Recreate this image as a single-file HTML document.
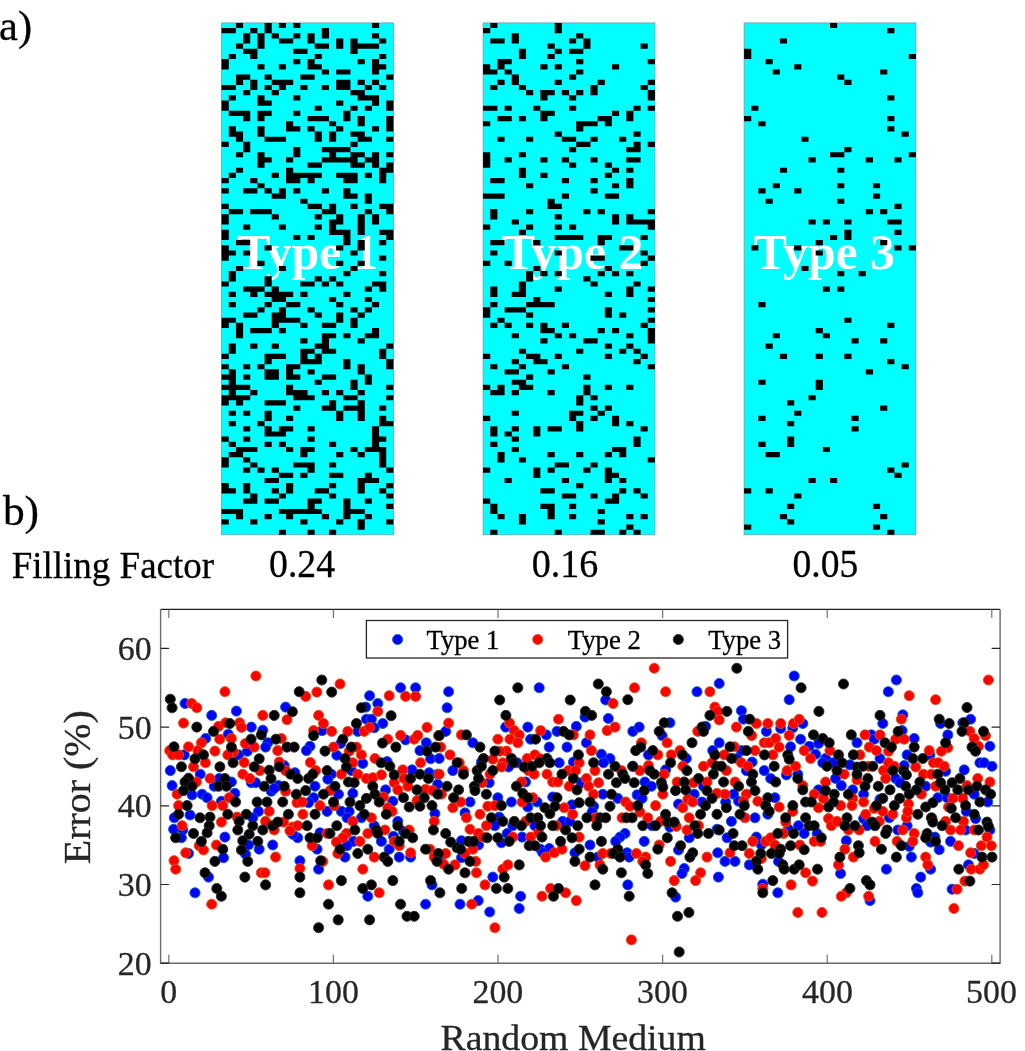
<!DOCTYPE html>
<html><head><meta charset="utf-8"><title>figure</title>
<style>html,body{margin:0;padding:0;background:#fff;width:1025px;height:1051px;overflow:hidden}svg{display:block;will-change:transform}</style>
</head><body>
<svg width="1025" height="1051" viewBox="0 0 1025 1051">
<rect x="221.6" y="22.9" width="171.8" height="511.9" fill="#00ffff" stroke="#7a9a9a" stroke-width="0.8"/>
<text x="237.04" y="269.20" font-family="Liberation Serif" font-weight="bold" font-size="51.01" textLength="141.47" lengthAdjust="spacingAndGlyphs" fill="#fff">Type 1</text>
<path d="M235.92 22.90h7.16v5.17h-7.16zM264.55 22.90h7.16v5.17h-7.16zM278.87 22.90h7.16v5.17h-7.16zM293.18 22.90h7.16v5.17h-7.16zM371.93 22.90h7.16v5.17h-7.16zM221.60 28.07h14.32v5.17h-14.32zM250.23 28.07h7.16v5.17h-7.16zM264.55 28.07h7.16v5.17h-7.16zM321.82 28.07h7.16v5.17h-7.16zM243.07 33.24h7.16v5.17h-7.16zM257.39 33.24h7.16v5.17h-7.16zM271.71 33.24h7.16v5.17h-7.16zM293.18 33.24h7.16v5.17h-7.16zM307.50 33.24h7.16v5.17h-7.16zM321.82 33.24h7.16v5.17h-7.16zM371.93 33.24h7.16v5.17h-7.16zM243.07 38.41h7.16v5.17h-7.16zM257.39 38.41h7.16v5.17h-7.16zM278.87 38.41h14.32v5.17h-14.32zM307.50 38.41h7.16v5.17h-7.16zM336.13 38.41h7.16v5.17h-7.16zM350.45 38.41h7.16v5.17h-7.16zM379.08 38.41h7.16v5.17h-7.16zM235.92 43.58h7.16v5.17h-7.16zM257.39 43.58h7.16v5.17h-7.16zM314.66 43.58h14.32v5.17h-14.32zM336.13 43.58h7.16v5.17h-7.16zM350.45 43.58h28.63v5.17h-28.63zM243.07 48.75h14.32v5.17h-14.32zM293.18 48.75h14.32v5.17h-14.32zM350.45 48.75h7.16v5.17h-7.16zM228.76 53.92h7.16v5.17h-7.16zM250.23 53.92h7.16v5.17h-7.16zM314.66 53.92h7.16v5.17h-7.16zM379.08 53.92h7.16v5.17h-7.16zM221.60 59.09h7.16v5.17h-7.16zM293.18 59.09h7.16v5.17h-7.16zM307.50 59.09h7.16v5.17h-7.16zM357.61 59.09h7.16v5.17h-7.16zM371.93 59.09h7.16v5.17h-7.16zM221.60 64.27h7.16v5.17h-7.16zM257.39 64.27h7.16v5.17h-7.16zM278.87 64.27h7.16v5.17h-7.16zM307.50 64.27h14.32v5.17h-14.32zM371.93 64.27h14.32v5.17h-14.32zM321.82 69.44h7.16v5.17h-7.16zM336.13 69.44h14.32v5.17h-14.32zM371.93 69.44h7.16v5.17h-7.16zM235.92 74.61h14.32v5.17h-14.32zM264.55 74.61h7.16v5.17h-7.16zM300.34 74.61h14.32v5.17h-14.32zM386.24 74.61h7.16v5.17h-7.16zM235.92 79.78h7.16v5.17h-7.16zM250.23 79.78h7.16v5.17h-7.16zM271.71 79.78h21.48v5.17h-21.48zM336.13 79.78h14.32v5.17h-14.32zM357.61 79.78h7.16v5.17h-7.16zM371.93 79.78h7.16v5.17h-7.16zM221.60 84.95h14.32v5.17h-14.32zM250.23 84.95h7.16v5.17h-7.16zM264.55 84.95h7.16v5.17h-7.16zM278.87 84.95h7.16v5.17h-7.16zM300.34 84.95h7.16v5.17h-7.16zM321.82 84.95h7.16v5.17h-7.16zM336.13 84.95h14.32v5.17h-14.32zM364.77 84.95h7.16v5.17h-7.16zM379.08 84.95h7.16v5.17h-7.16zM243.07 90.12h7.16v5.17h-7.16zM271.71 90.12h7.16v5.17h-7.16zM350.45 90.12h14.32v5.17h-14.32zM228.76 95.29h7.16v5.17h-7.16zM257.39 95.29h7.16v5.17h-7.16zM293.18 95.29h7.16v5.17h-7.16zM357.61 95.29h21.48v5.17h-21.48zM221.60 100.46h7.16v5.17h-7.16zM257.39 100.46h14.32v5.17h-14.32zM336.13 100.46h7.16v5.17h-7.16zM371.93 100.46h7.16v5.17h-7.16zM386.24 100.46h7.16v5.17h-7.16zM221.60 105.63h7.16v5.17h-7.16zM314.66 105.63h7.16v5.17h-7.16zM350.45 105.63h7.16v5.17h-7.16zM364.77 105.63h7.16v5.17h-7.16zM386.24 105.63h7.16v5.17h-7.16zM228.76 110.80h21.48v5.17h-21.48zM257.39 110.80h14.32v5.17h-14.32zM293.18 110.80h7.16v5.17h-7.16zM343.29 110.80h7.16v5.17h-7.16zM243.07 115.97h7.16v5.17h-7.16zM257.39 115.97h7.16v5.17h-7.16zM307.50 115.97h21.48v5.17h-21.48zM343.29 115.97h7.16v5.17h-7.16zM357.61 115.97h7.16v5.17h-7.16zM386.24 115.97h7.16v5.17h-7.16zM286.02 121.14h7.16v5.17h-7.16zM328.98 121.14h7.16v5.17h-7.16zM357.61 121.14h7.16v5.17h-7.16zM386.24 121.14h7.16v5.17h-7.16zM228.76 126.31h7.16v5.17h-7.16zM257.39 126.31h7.16v5.17h-7.16zM286.02 126.31h14.32v5.17h-14.32zM307.50 126.31h7.16v5.17h-7.16zM336.13 126.31h7.16v5.17h-7.16zM371.93 126.31h7.16v5.17h-7.16zM386.24 126.31h7.16v5.17h-7.16zM228.76 131.48h14.32v5.17h-14.32zM257.39 131.48h7.16v5.17h-7.16zM314.66 131.48h7.16v5.17h-7.16zM328.98 131.48h7.16v5.17h-7.16zM350.45 131.48h14.32v5.17h-14.32zM235.92 136.66h7.16v5.17h-7.16zM264.55 136.66h21.48v5.17h-21.48zM314.66 136.66h7.16v5.17h-7.16zM328.98 136.66h7.16v5.17h-7.16zM357.61 136.66h14.32v5.17h-14.32zM386.24 136.66h7.16v5.17h-7.16zM221.60 141.83h7.16v5.17h-7.16zM243.07 141.83h7.16v5.17h-7.16zM350.45 141.83h7.16v5.17h-7.16zM243.07 147.00h7.16v5.17h-7.16zM293.18 147.00h7.16v5.17h-7.16zM321.82 147.00h28.63v5.17h-28.63zM235.92 152.17h7.16v5.17h-7.16zM257.39 152.17h7.16v5.17h-7.16zM293.18 152.17h7.16v5.17h-7.16zM328.98 152.17h7.16v5.17h-7.16zM350.45 152.17h14.32v5.17h-14.32zM371.93 152.17h7.16v5.17h-7.16zM386.24 152.17h7.16v5.17h-7.16zM257.39 157.34h14.32v5.17h-14.32zM286.02 157.34h7.16v5.17h-7.16zM321.82 157.34h35.79v5.17h-35.79zM364.77 157.34h14.32v5.17h-14.32zM257.39 162.51h7.16v5.17h-7.16zM307.50 162.51h14.32v5.17h-14.32zM350.45 162.51h14.32v5.17h-14.32zM371.93 162.51h7.16v5.17h-7.16zM386.24 162.51h7.16v5.17h-7.16zM235.92 167.68h7.16v5.17h-7.16zM286.02 167.68h7.16v5.17h-7.16zM379.08 167.68h14.32v5.17h-14.32zM228.76 172.85h7.16v5.17h-7.16zM271.71 172.85h7.16v5.17h-7.16zM286.02 172.85h35.79v5.17h-35.79zM336.13 172.85h21.48v5.17h-21.48zM364.77 172.85h7.16v5.17h-7.16zM379.08 172.85h7.16v5.17h-7.16zM221.60 178.02h7.16v5.17h-7.16zM250.23 178.02h7.16v5.17h-7.16zM286.02 178.02h14.32v5.17h-14.32zM307.50 178.02h7.16v5.17h-7.16zM343.29 178.02h14.32v5.17h-14.32zM379.08 178.02h7.16v5.17h-7.16zM257.39 183.19h7.16v5.17h-7.16zM221.60 188.36h7.16v5.17h-7.16zM243.07 188.36h14.32v5.17h-14.32zM264.55 188.36h7.16v5.17h-7.16zM278.87 188.36h7.16v5.17h-7.16zM293.18 188.36h7.16v5.17h-7.16zM321.82 188.36h7.16v5.17h-7.16zM343.29 188.36h7.16v5.17h-7.16zM271.71 193.53h14.32v5.17h-14.32zM343.29 193.53h14.32v5.17h-14.32zM364.77 193.53h7.16v5.17h-7.16zM300.34 198.70h7.16v5.17h-7.16zM364.77 198.70h7.16v5.17h-7.16zM221.60 203.87h7.16v5.17h-7.16zM307.50 203.87h14.32v5.17h-14.32zM328.98 203.87h7.16v5.17h-7.16zM350.45 203.87h7.16v5.17h-7.16zM379.08 203.87h14.32v5.17h-14.32zM228.76 209.05h14.32v5.17h-14.32zM250.23 209.05h21.48v5.17h-21.48zM321.82 209.05h14.32v5.17h-14.32zM364.77 209.05h7.16v5.17h-7.16zM386.24 209.05h7.16v5.17h-7.16zM221.60 214.22h7.16v5.17h-7.16zM271.71 214.22h7.16v5.17h-7.16zM314.66 214.22h7.16v5.17h-7.16zM336.13 214.22h7.16v5.17h-7.16zM357.61 214.22h7.16v5.17h-7.16zM371.93 214.22h7.16v5.17h-7.16zM221.60 219.39h7.16v5.17h-7.16zM328.98 219.39h14.32v5.17h-14.32zM357.61 219.39h7.16v5.17h-7.16zM371.93 219.39h7.16v5.17h-7.16zM243.07 224.56h7.16v5.17h-7.16zM278.87 224.56h7.16v5.17h-7.16zM314.66 224.56h7.16v5.17h-7.16zM328.98 224.56h7.16v5.17h-7.16zM357.61 224.56h7.16v5.17h-7.16zM221.60 229.73h7.16v5.17h-7.16zM328.98 229.73h21.48v5.17h-21.48zM357.61 229.73h7.16v5.17h-7.16zM379.08 229.73h14.32v5.17h-14.32zM221.60 234.90h7.16v5.17h-7.16zM293.18 234.90h7.16v5.17h-7.16zM307.50 234.90h7.16v5.17h-7.16zM343.29 234.90h7.16v5.17h-7.16zM386.24 234.90h7.16v5.17h-7.16zM235.92 240.07h14.32v5.17h-14.32zM343.29 240.07h7.16v5.17h-7.16zM357.61 240.07h7.16v5.17h-7.16zM379.08 240.07h7.16v5.17h-7.16zM221.60 245.24h7.16v5.17h-7.16zM264.55 245.24h7.16v5.17h-7.16zM336.13 245.24h7.16v5.17h-7.16zM357.61 245.24h7.16v5.17h-7.16zM221.60 250.41h14.32v5.17h-14.32zM243.07 250.41h7.16v5.17h-7.16zM350.45 250.41h7.16v5.17h-7.16zM221.60 255.58h7.16v5.17h-7.16zM379.08 255.58h7.16v5.17h-7.16zM257.39 260.75h7.16v5.17h-7.16zM336.13 260.75h7.16v5.17h-7.16zM357.61 260.75h7.16v5.17h-7.16zM235.92 265.92h7.16v5.17h-7.16zM278.87 265.92h7.16v5.17h-7.16zM350.45 265.92h7.16v5.17h-7.16zM228.76 271.09h7.16v5.17h-7.16zM343.29 271.09h7.16v5.17h-7.16zM379.08 271.09h7.16v5.17h-7.16zM228.76 276.26h7.16v5.17h-7.16zM264.55 276.26h7.16v5.17h-7.16zM314.66 276.26h7.16v5.17h-7.16zM328.98 276.26h7.16v5.17h-7.16zM221.60 281.44h7.16v5.17h-7.16zM264.55 281.44h7.16v5.17h-7.16zM300.34 281.44h14.32v5.17h-14.32zM321.82 281.44h7.16v5.17h-7.16zM336.13 281.44h7.16v5.17h-7.16zM371.93 281.44h14.32v5.17h-14.32zM243.07 286.61h21.48v5.17h-21.48zM271.71 286.61h7.16v5.17h-7.16zM364.77 286.61h7.16v5.17h-7.16zM379.08 286.61h7.16v5.17h-7.16zM228.76 291.78h7.16v5.17h-7.16zM250.23 291.78h7.16v5.17h-7.16zM264.55 291.78h28.63v5.17h-28.63zM300.34 291.78h7.16v5.17h-7.16zM343.29 291.78h7.16v5.17h-7.16zM271.71 296.95h14.32v5.17h-14.32zM328.98 296.95h7.16v5.17h-7.16zM364.77 296.95h7.16v5.17h-7.16zM228.76 302.12h7.16v5.17h-7.16zM264.55 302.12h7.16v5.17h-7.16zM286.02 302.12h14.32v5.17h-14.32zM336.13 302.12h7.16v5.17h-7.16zM371.93 302.12h7.16v5.17h-7.16zM257.39 307.29h7.16v5.17h-7.16zM278.87 307.29h7.16v5.17h-7.16zM307.50 307.29h7.16v5.17h-7.16zM350.45 307.29h7.16v5.17h-7.16zM364.77 307.29h7.16v5.17h-7.16zM243.07 312.46h14.32v5.17h-14.32zM271.71 312.46h14.32v5.17h-14.32zM314.66 312.46h7.16v5.17h-7.16zM336.13 312.46h7.16v5.17h-7.16zM357.61 312.46h7.16v5.17h-7.16zM221.60 317.63h14.32v5.17h-14.32zM271.71 317.63h28.63v5.17h-28.63zM336.13 317.63h7.16v5.17h-7.16zM350.45 317.63h7.16v5.17h-7.16zM221.60 322.80h7.16v5.17h-7.16zM235.92 322.80h7.16v5.17h-7.16zM271.71 322.80h7.16v5.17h-7.16zM300.34 322.80h7.16v5.17h-7.16zM321.82 322.80h14.32v5.17h-14.32zM350.45 322.80h7.16v5.17h-7.16zM235.92 327.97h7.16v5.17h-7.16zM250.23 327.97h21.48v5.17h-21.48zM278.87 327.97h7.16v5.17h-7.16zM371.93 327.97h7.16v5.17h-7.16zM235.92 333.14h7.16v5.17h-7.16zM321.82 333.14h14.32v5.17h-14.32zM343.29 333.14h7.16v5.17h-7.16zM364.77 333.14h14.32v5.17h-14.32zM300.34 338.31h7.16v5.17h-7.16zM321.82 338.31h7.16v5.17h-7.16zM357.61 338.31h7.16v5.17h-7.16zM228.76 343.48h7.16v5.17h-7.16zM250.23 343.48h7.16v5.17h-7.16zM271.71 343.48h7.16v5.17h-7.16zM314.66 343.48h14.32v5.17h-14.32zM386.24 343.48h7.16v5.17h-7.16zM228.76 348.65h7.16v5.17h-7.16zM300.34 348.65h14.32v5.17h-14.32zM321.82 348.65h14.32v5.17h-14.32zM379.08 348.65h7.16v5.17h-7.16zM221.60 353.83h7.16v5.17h-7.16zM264.55 353.83h21.48v5.17h-21.48zM300.34 353.83h7.16v5.17h-7.16zM314.66 353.83h7.16v5.17h-7.16zM379.08 353.83h7.16v5.17h-7.16zM264.55 359.00h7.16v5.17h-7.16zM300.34 359.00h21.48v5.17h-21.48zM343.29 359.00h7.16v5.17h-7.16zM386.24 359.00h7.16v5.17h-7.16zM221.60 364.17h7.16v5.17h-7.16zM243.07 364.17h7.16v5.17h-7.16zM257.39 364.17h7.16v5.17h-7.16zM286.02 364.17h14.32v5.17h-14.32zM343.29 364.17h7.16v5.17h-7.16zM357.61 364.17h7.16v5.17h-7.16zM386.24 364.17h7.16v5.17h-7.16zM228.76 369.34h7.16v5.17h-7.16zM264.55 369.34h14.32v5.17h-14.32zM286.02 369.34h7.16v5.17h-7.16zM307.50 369.34h7.16v5.17h-7.16zM357.61 369.34h7.16v5.17h-7.16zM221.60 374.51h14.32v5.17h-14.32zM243.07 374.51h7.16v5.17h-7.16zM264.55 374.51h14.32v5.17h-14.32zM286.02 374.51h14.32v5.17h-14.32zM321.82 374.51h14.32v5.17h-14.32zM364.77 374.51h7.16v5.17h-7.16zM228.76 379.68h7.16v5.17h-7.16zM314.66 379.68h7.16v5.17h-7.16zM350.45 379.68h7.16v5.17h-7.16zM364.77 379.68h7.16v5.17h-7.16zM221.60 384.85h28.63v5.17h-28.63zM286.02 384.85h7.16v5.17h-7.16zM350.45 384.85h7.16v5.17h-7.16zM386.24 384.85h7.16v5.17h-7.16zM228.76 390.02h7.16v5.17h-7.16zM250.23 390.02h7.16v5.17h-7.16zM286.02 390.02h21.48v5.17h-21.48zM321.82 390.02h7.16v5.17h-7.16zM336.13 390.02h7.16v5.17h-7.16zM357.61 390.02h7.16v5.17h-7.16zM221.60 395.19h28.63v5.17h-28.63zM293.18 395.19h21.48v5.17h-21.48zM343.29 395.19h14.32v5.17h-14.32zM386.24 395.19h7.16v5.17h-7.16zM221.60 400.36h7.16v5.17h-7.16zM235.92 400.36h7.16v5.17h-7.16zM264.55 400.36h21.48v5.17h-21.48zM328.98 400.36h7.16v5.17h-7.16zM357.61 400.36h7.16v5.17h-7.16zM293.18 405.53h7.16v5.17h-7.16zM321.82 405.53h14.32v5.17h-14.32zM343.29 405.53h21.48v5.17h-21.48zM379.08 405.53h7.16v5.17h-7.16zM228.76 410.70h7.16v5.17h-7.16zM243.07 410.70h7.16v5.17h-7.16zM264.55 410.70h7.16v5.17h-7.16zM336.13 410.70h7.16v5.17h-7.16zM357.61 410.70h7.16v5.17h-7.16zM264.55 415.87h7.16v5.17h-7.16zM286.02 415.87h7.16v5.17h-7.16zM336.13 415.87h7.16v5.17h-7.16zM357.61 415.87h7.16v5.17h-7.16zM379.08 415.87h7.16v5.17h-7.16zM228.76 421.04h7.16v5.17h-7.16zM257.39 421.04h7.16v5.17h-7.16zM379.08 421.04h14.32v5.17h-14.32zM243.07 426.22h7.16v5.17h-7.16zM264.55 426.22h7.16v5.17h-7.16zM278.87 426.22h14.32v5.17h-14.32zM307.50 426.22h7.16v5.17h-7.16zM371.93 426.22h7.16v5.17h-7.16zM264.55 431.39h21.48v5.17h-21.48zM371.93 431.39h7.16v5.17h-7.16zM221.60 436.56h7.16v5.17h-7.16zM243.07 436.56h7.16v5.17h-7.16zM307.50 436.56h7.16v5.17h-7.16zM371.93 436.56h14.32v5.17h-14.32zM228.76 441.73h7.16v5.17h-7.16zM264.55 441.73h7.16v5.17h-7.16zM278.87 441.73h7.16v5.17h-7.16zM328.98 441.73h7.16v5.17h-7.16zM371.93 441.73h7.16v5.17h-7.16zM235.92 446.90h21.48v5.17h-21.48zM286.02 446.90h7.16v5.17h-7.16zM300.34 446.90h14.32v5.17h-14.32zM350.45 446.90h7.16v5.17h-7.16zM364.77 446.90h21.48v5.17h-21.48zM228.76 452.07h14.32v5.17h-14.32zM300.34 452.07h7.16v5.17h-7.16zM336.13 452.07h7.16v5.17h-7.16zM357.61 452.07h7.16v5.17h-7.16zM379.08 452.07h7.16v5.17h-7.16zM221.60 457.24h7.16v5.17h-7.16zM243.07 457.24h7.16v5.17h-7.16zM379.08 457.24h7.16v5.17h-7.16zM221.60 462.41h7.16v5.17h-7.16zM250.23 462.41h7.16v5.17h-7.16zM293.18 462.41h21.48v5.17h-21.48zM328.98 462.41h7.16v5.17h-7.16zM379.08 462.41h7.16v5.17h-7.16zM243.07 467.58h7.16v5.17h-7.16zM257.39 467.58h7.16v5.17h-7.16zM271.71 467.58h7.16v5.17h-7.16zM307.50 467.58h7.16v5.17h-7.16zM386.24 467.58h7.16v5.17h-7.16zM278.87 472.75h14.32v5.17h-14.32zM300.34 472.75h7.16v5.17h-7.16zM328.98 472.75h14.32v5.17h-14.32zM364.77 472.75h7.16v5.17h-7.16zM264.55 477.92h14.32v5.17h-14.32zM357.61 477.92h21.48v5.17h-21.48zM221.60 483.09h7.16v5.17h-7.16zM243.07 483.09h7.16v5.17h-7.16zM286.02 483.09h7.16v5.17h-7.16zM328.98 483.09h7.16v5.17h-7.16zM357.61 483.09h7.16v5.17h-7.16zM386.24 483.09h7.16v5.17h-7.16zM221.60 488.26h14.32v5.17h-14.32zM243.07 488.26h7.16v5.17h-7.16zM271.71 488.26h7.16v5.17h-7.16zM286.02 488.26h7.16v5.17h-7.16zM314.66 488.26h14.32v5.17h-14.32zM357.61 488.26h7.16v5.17h-7.16zM379.08 488.26h7.16v5.17h-7.16zM250.23 493.43h7.16v5.17h-7.16zM278.87 493.43h7.16v5.17h-7.16zM328.98 493.43h7.16v5.17h-7.16zM386.24 493.43h7.16v5.17h-7.16zM243.07 498.61h14.32v5.17h-14.32zM264.55 498.61h14.32v5.17h-14.32zM307.50 498.61h14.32v5.17h-14.32zM343.29 498.61h7.16v5.17h-7.16zM364.77 498.61h7.16v5.17h-7.16zM307.50 503.78h7.16v5.17h-7.16zM343.29 503.78h7.16v5.17h-7.16zM386.24 503.78h7.16v5.17h-7.16zM221.60 508.95h21.48v5.17h-21.48zM278.87 508.95h42.95v5.17h-42.95zM343.29 508.95h21.48v5.17h-21.48zM235.92 514.12h7.16v5.17h-7.16zM264.55 514.12h7.16v5.17h-7.16zM286.02 514.12h7.16v5.17h-7.16zM321.82 514.12h7.16v5.17h-7.16zM343.29 514.12h7.16v5.17h-7.16zM364.77 514.12h7.16v5.17h-7.16zM221.60 519.29h7.16v5.17h-7.16zM250.23 519.29h7.16v5.17h-7.16zM300.34 519.29h7.16v5.17h-7.16zM336.13 519.29h7.16v5.17h-7.16zM357.61 519.29h7.16v5.17h-7.16zM386.24 519.29h7.16v5.17h-7.16zM357.61 524.46h7.16v5.17h-7.16zM278.87 529.63h7.16v5.17h-7.16zM307.50 529.63h7.16v5.17h-7.16zM328.98 529.63h7.16v5.17h-7.16z" fill="#000"/>
<rect x="483.1" y="22.9" width="171.8" height="511.9" fill="#00ffff" stroke="#7a9a9a" stroke-width="0.8"/>
<text x="501.74" y="269.20" font-family="Liberation Serif" font-weight="bold" font-size="51.01" textLength="141.75" lengthAdjust="spacingAndGlyphs" fill="#fff">Type 2</text>
<path d="M490.26 22.90h7.16v5.17h-7.16zM554.68 22.90h7.16v5.17h-7.16zM483.10 28.07h7.16v5.17h-7.16zM554.68 28.07h7.16v5.17h-7.16zM511.73 33.24h7.16v5.17h-7.16zM576.16 33.24h7.16v5.17h-7.16zM490.26 38.41h14.32v5.17h-14.32zM511.73 38.41h7.16v5.17h-7.16zM569.00 38.41h7.16v5.17h-7.16zM583.32 38.41h7.16v5.17h-7.16zM547.53 43.58h7.16v5.17h-7.16zM583.32 43.58h7.16v5.17h-7.16zM640.58 43.58h7.16v5.17h-7.16zM518.89 48.75h7.16v5.17h-7.16zM554.68 48.75h7.16v5.17h-7.16zM569.00 48.75h14.32v5.17h-14.32zM518.89 53.92h7.16v5.17h-7.16zM547.53 53.92h7.16v5.17h-7.16zM497.42 59.09h14.32v5.17h-14.32zM576.16 59.09h7.16v5.17h-7.16zM647.74 59.09h7.16v5.17h-7.16zM483.10 64.27h7.16v5.17h-7.16zM497.42 64.27h7.16v5.17h-7.16zM540.37 64.27h7.16v5.17h-7.16zM554.68 64.27h7.16v5.17h-7.16zM611.95 64.27h7.16v5.17h-7.16zM483.10 69.44h14.32v5.17h-14.32zM504.58 69.44h7.16v5.17h-7.16zM576.16 69.44h7.16v5.17h-7.16zM511.73 74.61h7.16v5.17h-7.16zM569.00 74.61h7.16v5.17h-7.16zM497.42 79.78h7.16v5.17h-7.16zM511.73 79.78h7.16v5.17h-7.16zM554.68 79.78h7.16v5.17h-7.16zM597.63 79.78h7.16v5.17h-7.16zM647.74 79.78h7.16v5.17h-7.16zM490.26 84.95h7.16v5.17h-7.16zM518.89 84.95h7.16v5.17h-7.16zM590.48 84.95h7.16v5.17h-7.16zM640.58 84.95h7.16v5.17h-7.16zM526.05 90.12h7.16v5.17h-7.16zM540.37 90.12h14.32v5.17h-14.32zM561.84 90.12h7.16v5.17h-7.16zM576.16 90.12h7.16v5.17h-7.16zM590.48 90.12h7.16v5.17h-7.16zM647.74 90.12h7.16v5.17h-7.16zM540.37 95.29h7.16v5.17h-7.16zM569.00 95.29h7.16v5.17h-7.16zM647.74 95.29h7.16v5.17h-7.16zM483.10 105.63h14.32v5.17h-14.32zM504.58 105.63h7.16v5.17h-7.16zM533.21 105.63h7.16v5.17h-7.16zM569.00 105.63h7.16v5.17h-7.16zM633.43 105.63h7.16v5.17h-7.16zM647.74 105.63h7.16v5.17h-7.16zM540.37 110.80h14.32v5.17h-14.32zM611.95 110.80h7.16v5.17h-7.16zM626.27 110.80h7.16v5.17h-7.16zM497.42 115.97h14.32v5.17h-14.32zM518.89 115.97h7.16v5.17h-7.16zM540.37 115.97h7.16v5.17h-7.16zM597.63 115.97h14.32v5.17h-14.32zM626.27 115.97h7.16v5.17h-7.16zM483.10 121.14h7.16v5.17h-7.16zM576.16 121.14h21.48v5.17h-21.48zM604.79 121.14h7.16v5.17h-7.16zM576.16 126.31h7.16v5.17h-7.16zM554.68 131.48h7.16v5.17h-7.16zM633.43 131.48h7.16v5.17h-7.16zM497.42 136.66h7.16v5.17h-7.16zM526.05 136.66h7.16v5.17h-7.16zM561.84 136.66h14.32v5.17h-14.32zM590.48 136.66h7.16v5.17h-7.16zM619.11 136.66h7.16v5.17h-7.16zM576.16 141.83h14.32v5.17h-14.32zM633.43 141.83h7.16v5.17h-7.16zM647.74 141.83h7.16v5.17h-7.16zM569.00 147.00h7.16v5.17h-7.16zM626.27 147.00h14.32v5.17h-14.32zM483.10 152.17h7.16v5.17h-7.16zM518.89 152.17h7.16v5.17h-7.16zM483.10 157.34h7.16v5.17h-7.16zM504.58 157.34h7.16v5.17h-7.16zM540.37 157.34h7.16v5.17h-7.16zM561.84 157.34h7.16v5.17h-7.16zM590.48 157.34h7.16v5.17h-7.16zM626.27 157.34h14.32v5.17h-14.32zM483.10 162.51h7.16v5.17h-7.16zM569.00 162.51h7.16v5.17h-7.16zM604.79 162.51h7.16v5.17h-7.16zM518.89 167.68h7.16v5.17h-7.16zM611.95 167.68h7.16v5.17h-7.16zM626.27 167.68h7.16v5.17h-7.16zM518.89 172.85h7.16v5.17h-7.16zM540.37 172.85h7.16v5.17h-7.16zM604.79 172.85h7.16v5.17h-7.16zM490.26 178.02h14.32v5.17h-14.32zM561.84 178.02h7.16v5.17h-7.16zM590.48 178.02h7.16v5.17h-7.16zM626.27 178.02h7.16v5.17h-7.16zM526.05 183.19h7.16v5.17h-7.16zM611.95 183.19h7.16v5.17h-7.16zM626.27 183.19h7.16v5.17h-7.16zM590.48 188.36h7.16v5.17h-7.16zM483.10 193.53h21.48v5.17h-21.48zM561.84 193.53h7.16v5.17h-7.16zM604.79 193.53h14.32v5.17h-14.32zM547.53 198.70h7.16v5.17h-7.16zM547.53 203.87h14.32v5.17h-14.32zM490.26 209.05h7.16v5.17h-7.16zM526.05 209.05h7.16v5.17h-7.16zM583.32 209.05h7.16v5.17h-7.16zM597.63 209.05h7.16v5.17h-7.16zM647.74 209.05h7.16v5.17h-7.16zM490.26 214.22h7.16v5.17h-7.16zM554.68 214.22h7.16v5.17h-7.16zM611.95 214.22h7.16v5.17h-7.16zM626.27 214.22h7.16v5.17h-7.16zM511.73 219.39h7.16v5.17h-7.16zM611.95 219.39h7.16v5.17h-7.16zM626.27 219.39h28.63v5.17h-28.63zM483.10 224.56h7.16v5.17h-7.16zM526.05 224.56h7.16v5.17h-7.16zM554.68 224.56h7.16v5.17h-7.16zM569.00 224.56h7.16v5.17h-7.16zM647.74 224.56h7.16v5.17h-7.16zM518.89 229.73h7.16v5.17h-7.16zM554.68 234.90h28.63v5.17h-28.63zM597.63 234.90h14.32v5.17h-14.32zM640.58 234.90h7.16v5.17h-7.16zM490.26 240.07h14.32v5.17h-14.32zM533.21 240.07h7.16v5.17h-7.16zM597.63 240.07h7.16v5.17h-7.16zM619.11 245.24h14.32v5.17h-14.32zM490.26 250.41h7.16v5.17h-7.16zM554.68 250.41h7.16v5.17h-7.16zM640.58 250.41h7.16v5.17h-7.16zM590.48 255.58h14.32v5.17h-14.32zM647.74 255.58h7.16v5.17h-7.16zM483.10 260.75h7.16v5.17h-7.16zM504.58 260.75h7.16v5.17h-7.16zM640.58 260.75h7.16v5.17h-7.16zM533.21 265.92h7.16v5.17h-7.16zM604.79 265.92h7.16v5.17h-7.16zM526.05 271.09h7.16v5.17h-7.16zM540.37 271.09h7.16v5.17h-7.16zM554.68 271.09h7.16v5.17h-7.16zM597.63 271.09h7.16v5.17h-7.16zM611.95 271.09h7.16v5.17h-7.16zM626.27 271.09h7.16v5.17h-7.16zM526.05 276.26h7.16v5.17h-7.16zM583.32 276.26h7.16v5.17h-7.16zM518.89 281.44h7.16v5.17h-7.16zM590.48 281.44h7.16v5.17h-7.16zM633.43 281.44h7.16v5.17h-7.16zM490.26 286.61h7.16v5.17h-7.16zM518.89 286.61h7.16v5.17h-7.16zM554.68 286.61h7.16v5.17h-7.16zM626.27 286.61h7.16v5.17h-7.16zM647.74 286.61h7.16v5.17h-7.16zM490.26 291.78h7.16v5.17h-7.16zM511.73 291.78h14.32v5.17h-14.32zM604.79 291.78h7.16v5.17h-7.16zM626.27 291.78h7.16v5.17h-7.16zM533.21 296.95h7.16v5.17h-7.16zM647.74 296.95h7.16v5.17h-7.16zM490.26 302.12h7.16v5.17h-7.16zM526.05 302.12h28.63v5.17h-28.63zM483.10 307.29h7.16v5.17h-7.16zM504.58 307.29h21.48v5.17h-21.48zM604.79 307.29h7.16v5.17h-7.16zM647.74 307.29h7.16v5.17h-7.16zM483.10 312.46h7.16v5.17h-7.16zM526.05 312.46h7.16v5.17h-7.16zM604.79 312.46h7.16v5.17h-7.16zM619.11 312.46h7.16v5.17h-7.16zM497.42 317.63h7.16v5.17h-7.16zM647.74 317.63h7.16v5.17h-7.16zM490.26 322.80h7.16v5.17h-7.16zM504.58 322.80h7.16v5.17h-7.16zM526.05 322.80h7.16v5.17h-7.16zM540.37 322.80h7.16v5.17h-7.16zM561.84 322.80h7.16v5.17h-7.16zM640.58 322.80h7.16v5.17h-7.16zM540.37 327.97h14.32v5.17h-14.32zM597.63 327.97h7.16v5.17h-7.16zM611.95 327.97h7.16v5.17h-7.16zM647.74 327.97h7.16v5.17h-7.16zM511.73 333.14h7.16v5.17h-7.16zM554.68 333.14h7.16v5.17h-7.16zM569.00 333.14h7.16v5.17h-7.16zM626.27 333.14h7.16v5.17h-7.16zM647.74 333.14h7.16v5.17h-7.16zM540.37 338.31h7.16v5.17h-7.16zM583.32 338.31h14.32v5.17h-14.32zM647.74 338.31h7.16v5.17h-7.16zM604.79 343.48h7.16v5.17h-7.16zM626.27 343.48h7.16v5.17h-7.16zM518.89 348.65h7.16v5.17h-7.16zM576.16 348.65h7.16v5.17h-7.16zM619.11 348.65h7.16v5.17h-7.16zM633.43 348.65h7.16v5.17h-7.16zM483.10 353.83h7.16v5.17h-7.16zM526.05 353.83h14.32v5.17h-14.32zM554.68 353.83h7.16v5.17h-7.16zM604.79 353.83h7.16v5.17h-7.16zM640.58 353.83h7.16v5.17h-7.16zM511.73 359.00h7.16v5.17h-7.16zM533.21 359.00h14.32v5.17h-14.32zM633.43 359.00h7.16v5.17h-7.16zM490.26 364.17h7.16v5.17h-7.16zM518.89 364.17h7.16v5.17h-7.16zM561.84 364.17h7.16v5.17h-7.16zM647.74 364.17h7.16v5.17h-7.16zM504.58 369.34h14.32v5.17h-14.32zM547.53 369.34h7.16v5.17h-7.16zM526.05 374.51h7.16v5.17h-7.16zM583.32 374.51h7.16v5.17h-7.16zM511.73 379.68h14.32v5.17h-14.32zM483.10 384.85h7.16v5.17h-7.16zM497.42 384.85h7.16v5.17h-7.16zM518.89 384.85h14.32v5.17h-14.32zM583.32 384.85h7.16v5.17h-7.16zM604.79 384.85h7.16v5.17h-7.16zM626.27 384.85h7.16v5.17h-7.16zM490.26 390.02h14.32v5.17h-14.32zM511.73 390.02h7.16v5.17h-7.16zM547.53 390.02h7.16v5.17h-7.16zM583.32 390.02h7.16v5.17h-7.16zM576.16 395.19h7.16v5.17h-7.16zM590.48 395.19h7.16v5.17h-7.16zM576.16 400.36h7.16v5.17h-7.16zM590.48 405.53h7.16v5.17h-7.16zM604.79 405.53h7.16v5.17h-7.16zM511.73 410.70h7.16v5.17h-7.16zM569.00 410.70h14.32v5.17h-14.32zM597.63 410.70h7.16v5.17h-7.16zM483.10 415.87h7.16v5.17h-7.16zM569.00 415.87h7.16v5.17h-7.16zM590.48 415.87h7.16v5.17h-7.16zM611.95 415.87h7.16v5.17h-7.16zM576.16 421.04h7.16v5.17h-7.16zM611.95 421.04h7.16v5.17h-7.16zM626.27 421.04h7.16v5.17h-7.16zM490.26 426.22h7.16v5.17h-7.16zM511.73 426.22h7.16v5.17h-7.16zM533.21 426.22h7.16v5.17h-7.16zM547.53 426.22h14.32v5.17h-14.32zM576.16 426.22h7.16v5.17h-7.16zM640.58 426.22h7.16v5.17h-7.16zM490.26 431.39h7.16v5.17h-7.16zM504.58 431.39h7.16v5.17h-7.16zM533.21 431.39h7.16v5.17h-7.16zM511.73 436.56h7.16v5.17h-7.16zM633.43 436.56h7.16v5.17h-7.16zM490.26 441.73h7.16v5.17h-7.16zM633.43 441.73h7.16v5.17h-7.16zM511.73 446.90h7.16v5.17h-7.16zM611.95 446.90h14.32v5.17h-14.32zM497.42 452.07h7.16v5.17h-7.16zM547.53 452.07h7.16v5.17h-7.16zM576.16 452.07h7.16v5.17h-7.16zM604.79 452.07h7.16v5.17h-7.16zM619.11 452.07h7.16v5.17h-7.16zM497.42 457.24h7.16v5.17h-7.16zM518.89 457.24h7.16v5.17h-7.16zM647.74 457.24h7.16v5.17h-7.16zM554.68 462.41h14.32v5.17h-14.32zM590.48 462.41h7.16v5.17h-7.16zM483.10 467.58h7.16v5.17h-7.16zM533.21 467.58h7.16v5.17h-7.16zM547.53 467.58h7.16v5.17h-7.16zM583.32 467.58h7.16v5.17h-7.16zM604.79 467.58h7.16v5.17h-7.16zM533.21 472.75h7.16v5.17h-7.16zM604.79 472.75h14.32v5.17h-14.32zM504.58 477.92h7.16v5.17h-7.16zM561.84 477.92h7.16v5.17h-7.16zM604.79 477.92h7.16v5.17h-7.16zM619.11 477.92h7.16v5.17h-7.16zM576.16 483.09h7.16v5.17h-7.16zM540.37 488.26h14.32v5.17h-14.32zM619.11 488.26h7.16v5.17h-7.16zM633.43 488.26h7.16v5.17h-7.16zM561.84 493.43h14.32v5.17h-14.32zM590.48 493.43h7.16v5.17h-7.16zM611.95 493.43h7.16v5.17h-7.16zM640.58 493.43h7.16v5.17h-7.16zM483.10 498.61h7.16v5.17h-7.16zM604.79 498.61h14.32v5.17h-14.32zM490.26 503.78h7.16v5.17h-7.16zM540.37 503.78h14.32v5.17h-14.32zM569.00 503.78h7.16v5.17h-7.16zM490.26 508.95h7.16v5.17h-7.16zM547.53 508.95h7.16v5.17h-7.16zM597.63 508.95h7.16v5.17h-7.16zM497.42 514.12h7.16v5.17h-7.16zM518.89 514.12h7.16v5.17h-7.16zM547.53 514.12h7.16v5.17h-7.16zM569.00 514.12h7.16v5.17h-7.16zM626.27 514.12h7.16v5.17h-7.16zM640.58 514.12h7.16v5.17h-7.16zM518.89 519.29h7.16v5.17h-7.16zM597.63 519.29h7.16v5.17h-7.16zM626.27 524.46h7.16v5.17h-7.16zM490.26 529.63h7.16v5.17h-7.16zM554.68 529.63h7.16v5.17h-7.16zM590.48 529.63h14.32v5.17h-14.32zM619.11 529.63h7.16v5.17h-7.16zM633.43 529.63h7.16v5.17h-7.16z" fill="#000"/>
<rect x="744.1" y="22.9" width="171.8" height="511.9" fill="#00ffff" stroke="#7a9a9a" stroke-width="0.8"/>
<text x="753.64" y="269.20" font-family="Liberation Serif" font-weight="bold" font-size="51.01" textLength="141.31" lengthAdjust="spacingAndGlyphs" fill="#fff">Type 3</text>
<path d="M830.00 22.90h7.16v5.17h-7.16zM887.27 28.07h7.16v5.17h-7.16zM779.89 38.41h7.16v5.17h-7.16zM744.10 48.75h7.16v5.17h-7.16zM744.10 53.92h7.16v5.17h-7.16zM908.74 53.92h7.16v5.17h-7.16zM765.58 59.09h7.16v5.17h-7.16zM794.21 64.27h7.16v5.17h-7.16zM772.73 69.44h7.16v5.17h-7.16zM880.11 69.44h7.16v5.17h-7.16zM837.16 74.61h7.16v5.17h-7.16zM844.32 79.78h7.16v5.17h-7.16zM887.27 95.29h7.16v5.17h-7.16zM751.26 105.63h7.16v5.17h-7.16zM744.10 115.97h7.16v5.17h-7.16zM887.27 115.97h7.16v5.17h-7.16zM758.42 121.14h7.16v5.17h-7.16zM887.27 126.31h7.16v5.17h-7.16zM901.58 131.48h7.16v5.17h-7.16zM801.37 136.66h7.16v5.17h-7.16zM844.32 147.00h7.16v5.17h-7.16zM830.00 152.17h14.32v5.17h-14.32zM908.74 152.17h7.16v5.17h-7.16zM808.53 157.34h7.16v5.17h-7.16zM865.79 157.34h7.16v5.17h-7.16zM894.43 157.34h7.16v5.17h-7.16zM779.89 167.68h7.16v5.17h-7.16zM837.16 167.68h7.16v5.17h-7.16zM772.73 183.19h7.16v5.17h-7.16zM837.16 183.19h7.16v5.17h-7.16zM872.95 183.19h7.16v5.17h-7.16zM758.42 188.36h7.16v5.17h-7.16zM794.21 188.36h7.16v5.17h-7.16zM872.95 193.53h7.16v5.17h-7.16zM765.58 198.70h7.16v5.17h-7.16zM837.16 198.70h7.16v5.17h-7.16zM894.43 203.87h7.16v5.17h-7.16zM865.79 209.05h7.16v5.17h-7.16zM880.11 209.05h7.16v5.17h-7.16zM808.53 219.39h7.16v5.17h-7.16zM822.84 219.39h7.16v5.17h-7.16zM844.32 219.39h7.16v5.17h-7.16zM887.27 219.39h14.32v5.17h-14.32zM844.32 229.73h7.16v5.17h-7.16zM894.43 229.73h7.16v5.17h-7.16zM830.00 234.90h7.16v5.17h-7.16zM844.32 234.90h7.16v5.17h-7.16zM815.68 240.07h7.16v5.17h-7.16zM880.11 240.07h7.16v5.17h-7.16zM751.26 245.24h7.16v5.17h-7.16zM794.21 245.24h7.16v5.17h-7.16zM894.43 245.24h7.16v5.17h-7.16zM908.74 245.24h7.16v5.17h-7.16zM815.68 250.41h7.16v5.17h-7.16zM801.37 265.92h7.16v5.17h-7.16zM837.16 271.09h7.16v5.17h-7.16zM858.63 271.09h7.16v5.17h-7.16zM822.84 286.61h7.16v5.17h-7.16zM837.16 286.61h7.16v5.17h-7.16zM758.42 302.12h7.16v5.17h-7.16zM844.32 317.63h7.16v5.17h-7.16zM887.27 322.80h7.16v5.17h-7.16zM815.68 327.97h7.16v5.17h-7.16zM772.73 333.14h7.16v5.17h-7.16zM822.84 333.14h7.16v5.17h-7.16zM851.48 338.31h7.16v5.17h-7.16zM880.11 338.31h7.16v5.17h-7.16zM765.58 343.48h7.16v5.17h-7.16zM779.89 353.83h7.16v5.17h-7.16zM815.68 353.83h7.16v5.17h-7.16zM844.32 353.83h7.16v5.17h-7.16zM887.27 359.00h7.16v5.17h-7.16zM901.58 364.17h7.16v5.17h-7.16zM865.79 369.34h7.16v5.17h-7.16zM758.42 379.68h7.16v5.17h-7.16zM815.68 379.68h7.16v5.17h-7.16zM815.68 384.85h7.16v5.17h-7.16zM808.53 395.19h7.16v5.17h-7.16zM787.05 400.36h7.16v5.17h-7.16zM880.11 405.53h7.16v5.17h-7.16zM794.21 410.70h7.16v5.17h-7.16zM758.42 415.87h7.16v5.17h-7.16zM851.48 415.87h7.16v5.17h-7.16zM787.05 421.04h7.16v5.17h-7.16zM851.48 426.22h7.16v5.17h-7.16zM787.05 436.56h7.16v5.17h-7.16zM758.42 441.73h7.16v5.17h-7.16zM787.05 441.73h7.16v5.17h-7.16zM822.84 446.90h7.16v5.17h-7.16zM765.58 452.07h14.32v5.17h-14.32zM901.58 462.41h7.16v5.17h-7.16zM887.27 467.58h7.16v5.17h-7.16zM894.43 472.75h7.16v5.17h-7.16zM808.53 477.92h7.16v5.17h-7.16zM830.00 477.92h7.16v5.17h-7.16zM744.10 488.26h7.16v5.17h-7.16zM765.58 488.26h7.16v5.17h-7.16zM794.21 493.43h7.16v5.17h-7.16zM787.05 503.78h7.16v5.17h-7.16zM872.95 503.78h7.16v5.17h-7.16zM779.89 514.12h7.16v5.17h-7.16zM880.11 514.12h7.16v5.17h-7.16zM787.05 519.29h7.16v5.17h-7.16zM744.10 524.46h7.16v5.17h-7.16zM872.95 524.46h7.16v5.17h-7.16zM887.27 529.63h7.16v5.17h-7.16z" fill="#000"/>
<text x="-1.00" y="40.18" font-family="Liberation Serif" font-size="42.35" textLength="33.07" lengthAdjust="spacingAndGlyphs" fill="#000" stroke="#000" stroke-width="0.3">a)</text>
<text x="2.90" y="524.51" font-family="Liberation Serif" font-size="42.68" textLength="36.21" lengthAdjust="spacingAndGlyphs" fill="#000" stroke="#000" stroke-width="0.3">b)</text>
<text x="11.63" y="578.40" font-family="Liberation Serif" font-size="38.94" textLength="202.49" lengthAdjust="spacingAndGlyphs" fill="#000" stroke="#000" stroke-width="0.3">Filling Factor</text>
<text x="269.06" y="577.25" font-family="Liberation Serif" font-size="39.16" textLength="66.03" lengthAdjust="spacingAndGlyphs" fill="#000" stroke="#000" stroke-width="0.3">0.24</text>
<text x="531.75" y="577.25" font-family="Liberation Serif" font-size="39.16" textLength="66.58" lengthAdjust="spacingAndGlyphs" fill="#000" stroke="#000" stroke-width="0.3">0.16</text>
<text x="792.57" y="577.25" font-family="Liberation Serif" font-size="39.16" textLength="65.70" lengthAdjust="spacingAndGlyphs" fill="#000" stroke="#000" stroke-width="0.3">0.05</text>
<g fill="#0000ff" stroke="#0a5fc0" stroke-width="0.9"><circle cx="185.0" cy="703.5" r="5.05"/><circle cx="211.7" cy="715.4" r="5.05"/><circle cx="236.4" cy="711.1" r="5.05"/><circle cx="285.6" cy="707.1" r="5.05"/><circle cx="251.3" cy="727.1" r="5.05"/><circle cx="262.8" cy="730.2" r="5.05"/><circle cx="205.7" cy="738.5" r="5.05"/><circle cx="228.2" cy="734.2" r="5.05"/><circle cx="267.8" cy="742.8" r="5.05"/><circle cx="184.3" cy="754.9" r="5.05"/><circle cx="238.5" cy="754.9" r="5.05"/><circle cx="247.3" cy="751.3" r="5.05"/><circle cx="265.6" cy="747.1" r="5.05"/><circle cx="170.3" cy="770.6" r="5.05"/><circle cx="200.2" cy="774.2" r="5.05"/><circle cx="284.2" cy="765.6" r="5.05"/><circle cx="294.9" cy="772.7" r="5.05"/><circle cx="172.1" cy="785.6" r="5.05"/><circle cx="219.2" cy="778.5" r="5.05"/><circle cx="214.2" cy="786.3" r="5.05"/><circle cx="231.4" cy="782.0" r="5.05"/><circle cx="251.3" cy="782.7" r="5.05"/><circle cx="255.6" cy="782.7" r="5.05"/><circle cx="278.5" cy="785.6" r="5.05"/><circle cx="192.1" cy="794.9" r="5.05"/><circle cx="202.1" cy="794.2" r="5.05"/><circle cx="207.1" cy="797.7" r="5.05"/><circle cx="234.9" cy="793.4" r="5.05"/><circle cx="271.3" cy="791.3" r="5.05"/><circle cx="274.2" cy="788.4" r="5.05"/><circle cx="221.4" cy="801.3" r="5.05"/><circle cx="174.3" cy="817.8" r="5.05"/><circle cx="190.0" cy="815.0" r="5.05"/><circle cx="258.5" cy="811.4" r="5.05"/><circle cx="252.8" cy="817.8" r="5.05"/><circle cx="173.6" cy="829.3" r="5.05"/><circle cx="182.8" cy="830.0" r="5.05"/><circle cx="297.7" cy="837.8" r="5.05"/><circle cx="292.7" cy="834.3" r="5.05"/><circle cx="181.4" cy="837.8" r="5.05"/><circle cx="224.9" cy="837.1" r="5.05"/><circle cx="272.7" cy="845.0" r="5.05"/><circle cx="248.5" cy="845.0" r="5.05"/><circle cx="188.5" cy="853.5" r="5.05"/><circle cx="259.2" cy="849.2" r="5.05"/><circle cx="245.6" cy="854.2" r="5.05"/><circle cx="223.5" cy="857.8" r="5.05"/><circle cx="299.9" cy="860.7" r="5.05"/><circle cx="208.5" cy="877.1" r="5.05"/><circle cx="195.0" cy="892.8" r="5.05"/><circle cx="369.6" cy="695.7" r="5.05"/><circle cx="400.6" cy="687.8" r="5.05"/><circle cx="415.6" cy="687.8" r="5.05"/><circle cx="377.8" cy="703.5" r="5.05"/><circle cx="365.7" cy="707.1" r="5.05"/><circle cx="366.4" cy="719.2" r="5.05"/><circle cx="371.4" cy="719.2" r="5.05"/><circle cx="382.8" cy="723.5" r="5.05"/><circle cx="322.1" cy="730.6" r="5.05"/><circle cx="357.8" cy="731.4" r="5.05"/><circle cx="374.2" cy="727.8" r="5.05"/><circle cx="405.6" cy="739.9" r="5.05"/><circle cx="340.7" cy="743.5" r="5.05"/><circle cx="310.0" cy="746.3" r="5.05"/><circle cx="306.4" cy="750.6" r="5.05"/><circle cx="426.3" cy="742.8" r="5.05"/><circle cx="419.9" cy="750.6" r="5.05"/><circle cx="336.8" cy="755.3" r="5.05"/><circle cx="387.1" cy="761.6" r="5.05"/><circle cx="430.6" cy="758.8" r="5.05"/><circle cx="439.2" cy="758.5" r="5.05"/><circle cx="362.8" cy="763.5" r="5.05"/><circle cx="412.0" cy="769.9" r="5.05"/><circle cx="429.2" cy="772.7" r="5.05"/><circle cx="331.4" cy="774.2" r="5.05"/><circle cx="351.4" cy="770.6" r="5.05"/><circle cx="327.8" cy="779.2" r="5.05"/><circle cx="437.7" cy="774.2" r="5.05"/><circle cx="315.0" cy="786.3" r="5.05"/><circle cx="385.6" cy="789.9" r="5.05"/><circle cx="437.7" cy="784.2" r="5.05"/><circle cx="313.6" cy="797.7" r="5.05"/><circle cx="338.5" cy="794.2" r="5.05"/><circle cx="352.8" cy="793.4" r="5.05"/><circle cx="392.8" cy="801.3" r="5.05"/><circle cx="308.6" cy="802.7" r="5.05"/><circle cx="327.1" cy="811.4" r="5.05"/><circle cx="341.4" cy="811.4" r="5.05"/><circle cx="349.2" cy="811.4" r="5.05"/><circle cx="434.9" cy="813.6" r="5.05"/><circle cx="347.1" cy="817.8" r="5.05"/><circle cx="361.4" cy="817.8" r="5.05"/><circle cx="397.8" cy="821.4" r="5.05"/><circle cx="374.2" cy="825.7" r="5.05"/><circle cx="403.5" cy="831.4" r="5.05"/><circle cx="320.0" cy="832.8" r="5.05"/><circle cx="393.5" cy="836.4" r="5.05"/><circle cx="353.5" cy="841.4" r="5.05"/><circle cx="381.4" cy="841.4" r="5.05"/><circle cx="317.1" cy="849.2" r="5.05"/><circle cx="347.1" cy="845.7" r="5.05"/><circle cx="345.0" cy="857.1" r="5.05"/><circle cx="389.2" cy="849.2" r="5.05"/><circle cx="410.6" cy="857.1" r="5.05"/><circle cx="399.2" cy="857.1" r="5.05"/><circle cx="318.6" cy="869.2" r="5.05"/><circle cx="367.8" cy="896.3" r="5.05"/><circle cx="432.0" cy="884.9" r="5.05"/><circle cx="425.6" cy="904.2" r="5.05"/><circle cx="448.6" cy="691.7" r="5.05"/><circle cx="447.1" cy="707.8" r="5.05"/><circle cx="539.2" cy="687.8" r="5.05"/><circle cx="505.7" cy="727.1" r="5.05"/><circle cx="527.8" cy="727.1" r="5.05"/><circle cx="445.7" cy="731.4" r="5.05"/><circle cx="546.3" cy="734.9" r="5.05"/><circle cx="557.0" cy="731.4" r="5.05"/><circle cx="576.3" cy="726.4" r="5.05"/><circle cx="530.6" cy="739.2" r="5.05"/><circle cx="472.8" cy="742.8" r="5.05"/><circle cx="549.2" cy="747.1" r="5.05"/><circle cx="567.0" cy="747.1" r="5.05"/><circle cx="481.4" cy="762.0" r="5.05"/><circle cx="517.1" cy="762.8" r="5.05"/><circle cx="559.2" cy="762.8" r="5.05"/><circle cx="573.4" cy="762.0" r="5.05"/><circle cx="452.8" cy="770.6" r="5.05"/><circle cx="508.5" cy="767.0" r="5.05"/><circle cx="489.2" cy="782.7" r="5.05"/><circle cx="525.6" cy="782.0" r="5.05"/><circle cx="470.0" cy="802.0" r="5.05"/><circle cx="497.8" cy="797.7" r="5.05"/><circle cx="511.4" cy="802.0" r="5.05"/><circle cx="537.1" cy="802.0" r="5.05"/><circle cx="552.7" cy="797.0" r="5.05"/><circle cx="527.8" cy="807.0" r="5.05"/><circle cx="572.0" cy="804.9" r="5.05"/><circle cx="465.0" cy="812.9" r="5.05"/><circle cx="499.2" cy="817.1" r="5.05"/><circle cx="494.9" cy="825.7" r="5.05"/><circle cx="512.8" cy="825.7" r="5.05"/><circle cx="534.9" cy="825.7" r="5.05"/><circle cx="562.7" cy="821.4" r="5.05"/><circle cx="569.9" cy="821.4" r="5.05"/><circle cx="507.1" cy="833.5" r="5.05"/><circle cx="522.1" cy="837.1" r="5.05"/><circle cx="461.4" cy="840.7" r="5.05"/><circle cx="478.5" cy="845.0" r="5.05"/><circle cx="501.4" cy="842.8" r="5.05"/><circle cx="540.6" cy="849.2" r="5.05"/><circle cx="549.2" cy="848.5" r="5.05"/><circle cx="461.4" cy="857.8" r="5.05"/><circle cx="542.8" cy="852.8" r="5.05"/><circle cx="574.9" cy="852.8" r="5.05"/><circle cx="440.7" cy="860.0" r="5.05"/><circle cx="492.8" cy="877.1" r="5.05"/><circle cx="520.6" cy="896.3" r="5.05"/><circle cx="460.0" cy="904.2" r="5.05"/><circle cx="478.2" cy="900.6" r="5.05"/><circle cx="519.2" cy="908.5" r="5.05"/><circle cx="489.7" cy="912.0" r="5.05"/><circle cx="697.0" cy="691.7" r="5.05"/><circle cx="719.2" cy="683.5" r="5.05"/><circle cx="605.7" cy="700.0" r="5.05"/><circle cx="585.0" cy="717.1" r="5.05"/><circle cx="608.3" cy="718.5" r="5.05"/><circle cx="632.8" cy="731.4" r="5.05"/><circle cx="639.2" cy="727.1" r="5.05"/><circle cx="669.9" cy="722.8" r="5.05"/><circle cx="662.1" cy="735.6" r="5.05"/><circle cx="705.6" cy="726.4" r="5.05"/><circle cx="586.4" cy="742.8" r="5.05"/><circle cx="719.2" cy="742.8" r="5.05"/><circle cx="601.4" cy="754.2" r="5.05"/><circle cx="610.0" cy="758.5" r="5.05"/><circle cx="648.5" cy="754.9" r="5.05"/><circle cx="686.3" cy="758.5" r="5.05"/><circle cx="712.7" cy="750.6" r="5.05"/><circle cx="603.5" cy="762.8" r="5.05"/><circle cx="632.8" cy="766.3" r="5.05"/><circle cx="665.6" cy="769.9" r="5.05"/><circle cx="581.4" cy="782.7" r="5.05"/><circle cx="644.9" cy="782.0" r="5.05"/><circle cx="651.4" cy="786.3" r="5.05"/><circle cx="703.5" cy="786.3" r="5.05"/><circle cx="602.8" cy="794.2" r="5.05"/><circle cx="617.8" cy="798.4" r="5.05"/><circle cx="637.1" cy="794.9" r="5.05"/><circle cx="642.1" cy="798.4" r="5.05"/><circle cx="694.2" cy="794.2" r="5.05"/><circle cx="593.6" cy="806.3" r="5.05"/><circle cx="678.5" cy="804.1" r="5.05"/><circle cx="702.0" cy="802.0" r="5.05"/><circle cx="592.1" cy="812.1" r="5.05"/><circle cx="652.1" cy="825.7" r="5.05"/><circle cx="669.9" cy="827.1" r="5.05"/><circle cx="717.0" cy="829.3" r="5.05"/><circle cx="625.0" cy="833.5" r="5.05"/><circle cx="620.0" cy="837.1" r="5.05"/><circle cx="615.7" cy="841.4" r="5.05"/><circle cx="644.2" cy="841.4" r="5.05"/><circle cx="689.2" cy="837.8" r="5.05"/><circle cx="590.0" cy="845.0" r="5.05"/><circle cx="678.5" cy="850.0" r="5.05"/><circle cx="597.8" cy="857.1" r="5.05"/><circle cx="627.1" cy="852.8" r="5.05"/><circle cx="629.2" cy="857.1" r="5.05"/><circle cx="717.7" cy="852.8" r="5.05"/><circle cx="684.2" cy="868.5" r="5.05"/><circle cx="682.0" cy="873.5" r="5.05"/><circle cx="718.4" cy="877.1" r="5.05"/><circle cx="627.8" cy="884.9" r="5.05"/><circle cx="675.6" cy="897.1" r="5.05"/><circle cx="794.2" cy="676.0" r="5.05"/><circle cx="789.2" cy="699.7" r="5.05"/><circle cx="741.4" cy="710.7" r="5.05"/><circle cx="743.5" cy="719.2" r="5.05"/><circle cx="766.4" cy="731.4" r="5.05"/><circle cx="780.7" cy="728.5" r="5.05"/><circle cx="792.8" cy="727.8" r="5.05"/><circle cx="802.8" cy="723.5" r="5.05"/><circle cx="741.4" cy="750.6" r="5.05"/><circle cx="790.6" cy="746.8" r="5.05"/><circle cx="800.6" cy="739.2" r="5.05"/><circle cx="809.2" cy="746.3" r="5.05"/><circle cx="818.5" cy="743.5" r="5.05"/><circle cx="857.0" cy="742.8" r="5.05"/><circle cx="737.1" cy="758.5" r="5.05"/><circle cx="752.1" cy="762.0" r="5.05"/><circle cx="815.6" cy="754.2" r="5.05"/><circle cx="825.6" cy="758.5" r="5.05"/><circle cx="822.8" cy="762.8" r="5.05"/><circle cx="849.9" cy="764.9" r="5.05"/><circle cx="746.4" cy="770.6" r="5.05"/><circle cx="764.2" cy="770.6" r="5.05"/><circle cx="786.4" cy="774.9" r="5.05"/><circle cx="797.8" cy="774.2" r="5.05"/><circle cx="832.7" cy="762.8" r="5.05"/><circle cx="770.7" cy="778.5" r="5.05"/><circle cx="835.6" cy="778.5" r="5.05"/><circle cx="841.3" cy="785.6" r="5.05"/><circle cx="733.6" cy="794.2" r="5.05"/><circle cx="774.9" cy="797.7" r="5.05"/><circle cx="818.5" cy="789.9" r="5.05"/><circle cx="852.7" cy="789.9" r="5.05"/><circle cx="725.7" cy="802.0" r="5.05"/><circle cx="738.6" cy="801.3" r="5.05"/><circle cx="731.4" cy="821.4" r="5.05"/><circle cx="755.0" cy="817.8" r="5.05"/><circle cx="767.8" cy="814.3" r="5.05"/><circle cx="798.5" cy="825.7" r="5.05"/><circle cx="727.1" cy="837.8" r="5.05"/><circle cx="804.2" cy="833.5" r="5.05"/><circle cx="788.5" cy="829.3" r="5.05"/><circle cx="817.1" cy="833.5" r="5.05"/><circle cx="756.4" cy="837.1" r="5.05"/><circle cx="761.4" cy="845.0" r="5.05"/><circle cx="846.3" cy="840.7" r="5.05"/><circle cx="725.0" cy="861.4" r="5.05"/><circle cx="735.0" cy="861.4" r="5.05"/><circle cx="778.5" cy="861.4" r="5.05"/><circle cx="749.3" cy="864.9" r="5.05"/><circle cx="840.6" cy="873.5" r="5.05"/><circle cx="762.8" cy="884.2" r="5.05"/><circle cx="777.8" cy="892.8" r="5.05"/><circle cx="896.4" cy="680.0" r="5.05"/><circle cx="888.3" cy="691.7" r="5.05"/><circle cx="902.8" cy="714.9" r="5.05"/><circle cx="882.8" cy="723.5" r="5.05"/><circle cx="940.6" cy="723.5" r="5.05"/><circle cx="962.8" cy="722.8" r="5.05"/><circle cx="970.6" cy="719.2" r="5.05"/><circle cx="871.4" cy="734.9" r="5.05"/><circle cx="874.3" cy="739.2" r="5.05"/><circle cx="902.1" cy="730.6" r="5.05"/><circle cx="914.2" cy="738.5" r="5.05"/><circle cx="947.8" cy="734.9" r="5.05"/><circle cx="989.9" cy="746.3" r="5.05"/><circle cx="907.1" cy="754.9" r="5.05"/><circle cx="929.9" cy="754.9" r="5.05"/><circle cx="880.0" cy="758.5" r="5.05"/><circle cx="979.9" cy="762.8" r="5.05"/><circle cx="984.2" cy="762.8" r="5.05"/><circle cx="992.0" cy="766.3" r="5.05"/><circle cx="964.2" cy="769.9" r="5.05"/><circle cx="945.6" cy="771.3" r="5.05"/><circle cx="904.2" cy="765.6" r="5.05"/><circle cx="895.7" cy="778.5" r="5.05"/><circle cx="900.0" cy="782.7" r="5.05"/><circle cx="925.7" cy="786.3" r="5.05"/><circle cx="974.2" cy="794.2" r="5.05"/><circle cx="863.6" cy="794.2" r="5.05"/><circle cx="880.0" cy="799.2" r="5.05"/><circle cx="937.8" cy="797.7" r="5.05"/><circle cx="947.1" cy="797.7" r="5.05"/><circle cx="987.7" cy="802.0" r="5.05"/><circle cx="863.6" cy="818.6" r="5.05"/><circle cx="867.1" cy="825.7" r="5.05"/><circle cx="889.3" cy="817.8" r="5.05"/><circle cx="897.8" cy="830.0" r="5.05"/><circle cx="907.1" cy="825.7" r="5.05"/><circle cx="966.3" cy="811.4" r="5.05"/><circle cx="975.6" cy="818.6" r="5.05"/><circle cx="965.6" cy="830.0" r="5.05"/><circle cx="989.9" cy="830.0" r="5.05"/><circle cx="934.9" cy="837.1" r="5.05"/><circle cx="930.6" cy="842.1" r="5.05"/><circle cx="950.6" cy="841.4" r="5.05"/><circle cx="909.2" cy="846.4" r="5.05"/><circle cx="939.2" cy="849.7" r="5.05"/><circle cx="974.2" cy="853.5" r="5.05"/><circle cx="911.4" cy="857.1" r="5.05"/><circle cx="886.4" cy="869.2" r="5.05"/><circle cx="930.6" cy="869.2" r="5.05"/><circle cx="968.5" cy="864.9" r="5.05"/><circle cx="920.7" cy="877.1" r="5.05"/><circle cx="916.4" cy="888.5" r="5.05"/><circle cx="917.8" cy="892.8" r="5.05"/><circle cx="952.1" cy="889.2" r="5.05"/><circle cx="870.0" cy="900.6" r="5.05"/></g>
<g fill="#ff0000" stroke="#d8561c" stroke-width="0.9"><circle cx="255.9" cy="676.0" r="5.05"/><circle cx="224.9" cy="691.7" r="5.05"/><circle cx="191.7" cy="703.5" r="5.05"/><circle cx="196.8" cy="707.8" r="5.05"/><circle cx="262.8" cy="715.4" r="5.05"/><circle cx="183.5" cy="723.1" r="5.05"/><circle cx="218.5" cy="726.4" r="5.05"/><circle cx="225.7" cy="722.8" r="5.05"/><circle cx="239.6" cy="722.8" r="5.05"/><circle cx="241.6" cy="727.4" r="5.05"/><circle cx="287.0" cy="719.7" r="5.05"/><circle cx="219.7" cy="739.2" r="5.05"/><circle cx="231.4" cy="738.5" r="5.05"/><circle cx="245.3" cy="743.5" r="5.05"/><circle cx="281.3" cy="738.5" r="5.05"/><circle cx="201.4" cy="742.8" r="5.05"/><circle cx="188.5" cy="746.8" r="5.05"/><circle cx="169.7" cy="750.6" r="5.05"/><circle cx="172.6" cy="754.9" r="5.05"/><circle cx="178.6" cy="754.9" r="5.05"/><circle cx="197.8" cy="750.6" r="5.05"/><circle cx="214.9" cy="751.1" r="5.05"/><circle cx="233.5" cy="752.1" r="5.05"/><circle cx="227.8" cy="754.9" r="5.05"/><circle cx="254.2" cy="747.1" r="5.05"/><circle cx="277.7" cy="750.6" r="5.05"/><circle cx="193.5" cy="766.8" r="5.05"/><circle cx="205.4" cy="762.8" r="5.05"/><circle cx="244.2" cy="762.5" r="5.05"/><circle cx="259.9" cy="770.6" r="5.05"/><circle cx="279.2" cy="762.0" r="5.05"/><circle cx="285.6" cy="770.6" r="5.05"/><circle cx="196.4" cy="782.0" r="5.05"/><circle cx="210.0" cy="778.5" r="5.05"/><circle cx="242.8" cy="774.2" r="5.05"/><circle cx="249.9" cy="778.5" r="5.05"/><circle cx="177.1" cy="794.2" r="5.05"/><circle cx="229.2" cy="797.7" r="5.05"/><circle cx="285.6" cy="791.3" r="5.05"/><circle cx="178.6" cy="805.6" r="5.05"/><circle cx="212.1" cy="805.6" r="5.05"/><circle cx="222.8" cy="805.6" r="5.05"/><circle cx="297.0" cy="802.7" r="5.05"/><circle cx="269.2" cy="811.4" r="5.05"/><circle cx="237.1" cy="817.1" r="5.05"/><circle cx="221.4" cy="822.1" r="5.05"/><circle cx="265.6" cy="821.4" r="5.05"/><circle cx="283.5" cy="822.1" r="5.05"/><circle cx="292.7" cy="827.1" r="5.05"/><circle cx="297.7" cy="825.7" r="5.05"/><circle cx="182.1" cy="825.7" r="5.05"/><circle cx="274.2" cy="830.0" r="5.05"/><circle cx="289.9" cy="830.7" r="5.05"/><circle cx="216.4" cy="845.0" r="5.05"/><circle cx="199.2" cy="845.7" r="5.05"/><circle cx="203.5" cy="850.0" r="5.05"/><circle cx="185.7" cy="852.8" r="5.05"/><circle cx="174.0" cy="860.7" r="5.05"/><circle cx="175.7" cy="869.2" r="5.05"/><circle cx="275.6" cy="857.1" r="5.05"/><circle cx="261.3" cy="872.8" r="5.05"/><circle cx="264.9" cy="872.8" r="5.05"/><circle cx="299.9" cy="868.5" r="5.05"/><circle cx="211.7" cy="904.2" r="5.05"/><circle cx="340.0" cy="684.0" r="5.05"/><circle cx="305.7" cy="696.4" r="5.05"/><circle cx="316.8" cy="692.1" r="5.05"/><circle cx="389.2" cy="695.7" r="5.05"/><circle cx="405.6" cy="696.4" r="5.05"/><circle cx="415.6" cy="696.4" r="5.05"/><circle cx="377.8" cy="711.4" r="5.05"/><circle cx="318.6" cy="715.4" r="5.05"/><circle cx="323.5" cy="723.5" r="5.05"/><circle cx="313.6" cy="730.6" r="5.05"/><circle cx="331.7" cy="731.4" r="5.05"/><circle cx="347.8" cy="731.4" r="5.05"/><circle cx="364.2" cy="731.4" r="5.05"/><circle cx="369.6" cy="727.4" r="5.05"/><circle cx="427.0" cy="727.4" r="5.05"/><circle cx="387.8" cy="739.2" r="5.05"/><circle cx="400.6" cy="735.4" r="5.05"/><circle cx="414.2" cy="739.2" r="5.05"/><circle cx="417.7" cy="735.4" r="5.05"/><circle cx="438.4" cy="735.6" r="5.05"/><circle cx="356.4" cy="747.1" r="5.05"/><circle cx="333.5" cy="747.1" r="5.05"/><circle cx="349.2" cy="751.3" r="5.05"/><circle cx="361.4" cy="754.9" r="5.05"/><circle cx="374.9" cy="758.5" r="5.05"/><circle cx="310.3" cy="762.5" r="5.05"/><circle cx="315.7" cy="770.6" r="5.05"/><circle cx="352.8" cy="762.8" r="5.05"/><circle cx="402.8" cy="769.9" r="5.05"/><circle cx="420.6" cy="762.8" r="5.05"/><circle cx="341.4" cy="774.2" r="5.05"/><circle cx="357.8" cy="774.2" r="5.05"/><circle cx="366.4" cy="778.5" r="5.05"/><circle cx="372.8" cy="777.7" r="5.05"/><circle cx="381.4" cy="774.9" r="5.05"/><circle cx="394.2" cy="782.7" r="5.05"/><circle cx="403.9" cy="778.5" r="5.05"/><circle cx="439.2" cy="774.2" r="5.05"/><circle cx="330.0" cy="790.6" r="5.05"/><circle cx="397.8" cy="789.9" r="5.05"/><circle cx="407.8" cy="786.3" r="5.05"/><circle cx="425.6" cy="789.2" r="5.05"/><circle cx="432.7" cy="790.6" r="5.05"/><circle cx="383.5" cy="797.0" r="5.05"/><circle cx="320.0" cy="805.6" r="5.05"/><circle cx="302.1" cy="802.0" r="5.05"/><circle cx="334.3" cy="805.6" r="5.05"/><circle cx="387.8" cy="807.7" r="5.05"/><circle cx="417.0" cy="800.6" r="5.05"/><circle cx="302.9" cy="814.3" r="5.05"/><circle cx="371.4" cy="817.8" r="5.05"/><circle cx="392.1" cy="811.4" r="5.05"/><circle cx="352.8" cy="821.4" r="5.05"/><circle cx="434.2" cy="821.4" r="5.05"/><circle cx="384.9" cy="830.0" r="5.05"/><circle cx="409.2" cy="830.0" r="5.05"/><circle cx="327.1" cy="833.5" r="5.05"/><circle cx="346.4" cy="833.5" r="5.05"/><circle cx="367.8" cy="833.5" r="5.05"/><circle cx="342.8" cy="837.8" r="5.05"/><circle cx="359.9" cy="841.4" r="5.05"/><circle cx="394.2" cy="841.4" r="5.05"/><circle cx="312.1" cy="845.7" r="5.05"/><circle cx="336.4" cy="842.1" r="5.05"/><circle cx="337.8" cy="853.5" r="5.05"/><circle cx="399.2" cy="845.7" r="5.05"/><circle cx="410.6" cy="852.8" r="5.05"/><circle cx="374.2" cy="857.1" r="5.05"/><circle cx="429.9" cy="849.2" r="5.05"/><circle cx="434.2" cy="857.1" r="5.05"/><circle cx="322.8" cy="861.4" r="5.05"/><circle cx="362.8" cy="869.2" r="5.05"/><circle cx="328.5" cy="884.9" r="5.05"/><circle cx="379.2" cy="892.8" r="5.05"/><circle cx="448.6" cy="723.1" r="5.05"/><circle cx="509.6" cy="723.1" r="5.05"/><circle cx="558.5" cy="719.2" r="5.05"/><circle cx="461.4" cy="734.9" r="5.05"/><circle cx="514.2" cy="730.6" r="5.05"/><circle cx="519.2" cy="734.9" r="5.05"/><circle cx="540.6" cy="730.6" r="5.05"/><circle cx="573.4" cy="734.9" r="5.05"/><circle cx="497.8" cy="739.2" r="5.05"/><circle cx="509.9" cy="739.2" r="5.05"/><circle cx="517.8" cy="742.8" r="5.05"/><circle cx="440.7" cy="747.1" r="5.05"/><circle cx="506.4" cy="751.1" r="5.05"/><circle cx="499.9" cy="751.3" r="5.05"/><circle cx="450.0" cy="754.9" r="5.05"/><circle cx="459.3" cy="762.8" r="5.05"/><circle cx="492.8" cy="759.2" r="5.05"/><circle cx="502.8" cy="762.8" r="5.05"/><circle cx="527.1" cy="758.5" r="5.05"/><circle cx="534.9" cy="754.9" r="5.05"/><circle cx="539.9" cy="758.5" r="5.05"/><circle cx="579.2" cy="762.8" r="5.05"/><circle cx="463.5" cy="770.6" r="5.05"/><circle cx="490.0" cy="774.2" r="5.05"/><circle cx="501.4" cy="767.0" r="5.05"/><circle cx="528.5" cy="770.6" r="5.05"/><circle cx="534.2" cy="774.2" r="5.05"/><circle cx="547.0" cy="774.2" r="5.05"/><circle cx="568.4" cy="770.6" r="5.05"/><circle cx="575.6" cy="770.6" r="5.05"/><circle cx="482.1" cy="782.7" r="5.05"/><circle cx="521.4" cy="782.0" r="5.05"/><circle cx="552.7" cy="782.0" r="5.05"/><circle cx="557.7" cy="782.0" r="5.05"/><circle cx="569.2" cy="786.3" r="5.05"/><circle cx="441.4" cy="794.2" r="5.05"/><circle cx="460.7" cy="802.0" r="5.05"/><circle cx="532.8" cy="797.7" r="5.05"/><circle cx="522.1" cy="802.0" r="5.05"/><circle cx="487.8" cy="806.3" r="5.05"/><circle cx="494.9" cy="805.6" r="5.05"/><circle cx="452.8" cy="807.7" r="5.05"/><circle cx="564.2" cy="807.7" r="5.05"/><circle cx="466.4" cy="817.8" r="5.05"/><circle cx="480.0" cy="814.3" r="5.05"/><circle cx="486.4" cy="825.7" r="5.05"/><circle cx="525.6" cy="821.4" r="5.05"/><circle cx="572.7" cy="814.3" r="5.05"/><circle cx="556.3" cy="825.7" r="5.05"/><circle cx="470.0" cy="829.3" r="5.05"/><circle cx="478.5" cy="833.5" r="5.05"/><circle cx="482.8" cy="837.1" r="5.05"/><circle cx="512.8" cy="837.1" r="5.05"/><circle cx="530.6" cy="837.1" r="5.05"/><circle cx="538.5" cy="832.8" r="5.05"/><circle cx="579.2" cy="837.1" r="5.05"/><circle cx="472.8" cy="849.2" r="5.05"/><circle cx="445.7" cy="853.5" r="5.05"/><circle cx="465.0" cy="853.5" r="5.05"/><circle cx="545.6" cy="857.1" r="5.05"/><circle cx="554.2" cy="852.8" r="5.05"/><circle cx="562.0" cy="849.2" r="5.05"/><circle cx="475.7" cy="861.4" r="5.05"/><circle cx="443.6" cy="864.2" r="5.05"/><circle cx="455.0" cy="864.9" r="5.05"/><circle cx="502.8" cy="869.2" r="5.05"/><circle cx="507.8" cy="864.9" r="5.05"/><circle cx="476.4" cy="872.8" r="5.05"/><circle cx="485.0" cy="884.9" r="5.05"/><circle cx="550.6" cy="888.5" r="5.05"/><circle cx="565.6" cy="892.8" r="5.05"/><circle cx="542.0" cy="896.3" r="5.05"/><circle cx="576.3" cy="900.6" r="5.05"/><circle cx="471.7" cy="904.2" r="5.05"/><circle cx="494.9" cy="927.7" r="5.05"/><circle cx="654.2" cy="668.3" r="5.05"/><circle cx="634.5" cy="687.8" r="5.05"/><circle cx="665.6" cy="691.7" r="5.05"/><circle cx="709.9" cy="691.7" r="5.05"/><circle cx="613.1" cy="703.5" r="5.05"/><circle cx="714.9" cy="707.1" r="5.05"/><circle cx="717.7" cy="711.4" r="5.05"/><circle cx="607.1" cy="730.6" r="5.05"/><circle cx="615.0" cy="727.1" r="5.05"/><circle cx="697.7" cy="731.4" r="5.05"/><circle cx="719.2" cy="719.9" r="5.05"/><circle cx="590.0" cy="734.9" r="5.05"/><circle cx="667.1" cy="742.8" r="5.05"/><circle cx="641.4" cy="742.8" r="5.05"/><circle cx="591.4" cy="750.6" r="5.05"/><circle cx="657.8" cy="754.9" r="5.05"/><circle cx="671.3" cy="754.9" r="5.05"/><circle cx="679.9" cy="750.6" r="5.05"/><circle cx="648.5" cy="765.6" r="5.05"/><circle cx="639.9" cy="770.6" r="5.05"/><circle cx="682.8" cy="766.3" r="5.05"/><circle cx="703.5" cy="766.3" r="5.05"/><circle cx="712.0" cy="762.8" r="5.05"/><circle cx="595.0" cy="770.6" r="5.05"/><circle cx="621.4" cy="770.6" r="5.05"/><circle cx="664.2" cy="774.2" r="5.05"/><circle cx="586.4" cy="778.5" r="5.05"/><circle cx="598.6" cy="782.7" r="5.05"/><circle cx="677.1" cy="782.0" r="5.05"/><circle cx="693.5" cy="782.7" r="5.05"/><circle cx="707.0" cy="782.0" r="5.05"/><circle cx="588.6" cy="786.3" r="5.05"/><circle cx="593.6" cy="794.2" r="5.05"/><circle cx="662.8" cy="794.2" r="5.05"/><circle cx="717.0" cy="793.4" r="5.05"/><circle cx="625.7" cy="802.0" r="5.05"/><circle cx="630.0" cy="806.3" r="5.05"/><circle cx="655.6" cy="805.6" r="5.05"/><circle cx="682.8" cy="807.7" r="5.05"/><circle cx="687.8" cy="799.2" r="5.05"/><circle cx="692.7" cy="802.0" r="5.05"/><circle cx="595.0" cy="817.8" r="5.05"/><circle cx="622.1" cy="817.8" r="5.05"/><circle cx="639.9" cy="812.1" r="5.05"/><circle cx="647.8" cy="817.8" r="5.05"/><circle cx="689.2" cy="817.8" r="5.05"/><circle cx="660.6" cy="821.4" r="5.05"/><circle cx="676.3" cy="826.4" r="5.05"/><circle cx="687.0" cy="830.0" r="5.05"/><circle cx="698.5" cy="825.7" r="5.05"/><circle cx="659.2" cy="845.0" r="5.05"/><circle cx="602.8" cy="853.5" r="5.05"/><circle cx="610.7" cy="853.5" r="5.05"/><circle cx="636.4" cy="853.5" r="5.05"/><circle cx="645.7" cy="857.1" r="5.05"/><circle cx="707.0" cy="857.1" r="5.05"/><circle cx="585.0" cy="865.7" r="5.05"/><circle cx="600.0" cy="864.9" r="5.05"/><circle cx="670.6" cy="861.4" r="5.05"/><circle cx="642.8" cy="861.4" r="5.05"/><circle cx="700.6" cy="872.8" r="5.05"/><circle cx="674.2" cy="880.6" r="5.05"/><circle cx="695.6" cy="880.6" r="5.05"/><circle cx="631.4" cy="939.9" r="5.05"/><circle cx="756.4" cy="723.5" r="5.05"/><circle cx="736.4" cy="727.1" r="5.05"/><circle cx="767.8" cy="723.5" r="5.05"/><circle cx="780.7" cy="723.5" r="5.05"/><circle cx="793.5" cy="723.5" r="5.05"/><circle cx="799.2" cy="719.2" r="5.05"/><circle cx="751.7" cy="735.6" r="5.05"/><circle cx="789.2" cy="735.4" r="5.05"/><circle cx="734.3" cy="746.8" r="5.05"/><circle cx="755.0" cy="750.6" r="5.05"/><circle cx="764.2" cy="742.8" r="5.05"/><circle cx="769.2" cy="742.8" r="5.05"/><circle cx="775.7" cy="738.5" r="5.05"/><circle cx="779.2" cy="747.1" r="5.05"/><circle cx="804.2" cy="750.6" r="5.05"/><circle cx="829.9" cy="750.6" r="5.05"/><circle cx="724.3" cy="754.9" r="5.05"/><circle cx="741.4" cy="762.8" r="5.05"/><circle cx="747.8" cy="766.3" r="5.05"/><circle cx="772.8" cy="754.9" r="5.05"/><circle cx="810.6" cy="758.5" r="5.05"/><circle cx="859.9" cy="754.9" r="5.05"/><circle cx="726.4" cy="770.6" r="5.05"/><circle cx="787.1" cy="770.6" r="5.05"/><circle cx="795.6" cy="766.3" r="5.05"/><circle cx="844.2" cy="774.2" r="5.05"/><circle cx="735.0" cy="782.0" r="5.05"/><circle cx="802.8" cy="785.6" r="5.05"/><circle cx="825.6" cy="782.0" r="5.05"/><circle cx="857.0" cy="779.9" r="5.05"/><circle cx="725.0" cy="794.2" r="5.05"/><circle cx="746.4" cy="794.2" r="5.05"/><circle cx="814.2" cy="794.2" r="5.05"/><circle cx="823.5" cy="798.4" r="5.05"/><circle cx="852.7" cy="798.4" r="5.05"/><circle cx="743.5" cy="801.3" r="5.05"/><circle cx="757.8" cy="801.3" r="5.05"/><circle cx="779.2" cy="807.0" r="5.05"/><circle cx="818.5" cy="807.7" r="5.05"/><circle cx="840.6" cy="805.6" r="5.05"/><circle cx="852.0" cy="805.6" r="5.05"/><circle cx="745.0" cy="817.8" r="5.05"/><circle cx="792.8" cy="811.4" r="5.05"/><circle cx="785.7" cy="822.1" r="5.05"/><circle cx="828.5" cy="818.6" r="5.05"/><circle cx="831.3" cy="825.7" r="5.05"/><circle cx="837.0" cy="821.4" r="5.05"/><circle cx="848.4" cy="830.0" r="5.05"/><circle cx="859.2" cy="830.0" r="5.05"/><circle cx="783.5" cy="833.5" r="5.05"/><circle cx="814.2" cy="841.4" r="5.05"/><circle cx="820.6" cy="841.4" r="5.05"/><circle cx="752.8" cy="841.4" r="5.05"/><circle cx="765.7" cy="841.4" r="5.05"/><circle cx="770.7" cy="837.8" r="5.05"/><circle cx="774.9" cy="845.0" r="5.05"/><circle cx="799.9" cy="845.0" r="5.05"/><circle cx="730.0" cy="852.8" r="5.05"/><circle cx="749.3" cy="853.5" r="5.05"/><circle cx="761.4" cy="858.5" r="5.05"/><circle cx="844.9" cy="849.2" r="5.05"/><circle cx="853.4" cy="857.1" r="5.05"/><circle cx="838.5" cy="864.9" r="5.05"/><circle cx="805.6" cy="872.8" r="5.05"/><circle cx="762.8" cy="888.5" r="5.05"/><circle cx="791.1" cy="884.9" r="5.05"/><circle cx="812.5" cy="881.1" r="5.05"/><circle cx="846.3" cy="892.8" r="5.05"/><circle cx="841.3" cy="896.3" r="5.05"/><circle cx="797.8" cy="912.5" r="5.05"/><circle cx="822.0" cy="912.5" r="5.05"/><circle cx="988.4" cy="680.0" r="5.05"/><circle cx="909.2" cy="695.7" r="5.05"/><circle cx="935.6" cy="699.7" r="5.05"/><circle cx="901.4" cy="719.2" r="5.05"/><circle cx="969.9" cy="731.4" r="5.05"/><circle cx="985.6" cy="735.6" r="5.05"/><circle cx="865.0" cy="734.9" r="5.05"/><circle cx="880.0" cy="734.9" r="5.05"/><circle cx="895.7" cy="739.2" r="5.05"/><circle cx="904.2" cy="739.2" r="5.05"/><circle cx="974.2" cy="738.5" r="5.05"/><circle cx="947.8" cy="747.8" r="5.05"/><circle cx="941.4" cy="751.3" r="5.05"/><circle cx="869.3" cy="747.1" r="5.05"/><circle cx="876.4" cy="750.6" r="5.05"/><circle cx="888.5" cy="751.3" r="5.05"/><circle cx="929.2" cy="750.6" r="5.05"/><circle cx="978.5" cy="746.3" r="5.05"/><circle cx="933.5" cy="762.8" r="5.05"/><circle cx="938.5" cy="762.8" r="5.05"/><circle cx="944.2" cy="766.3" r="5.05"/><circle cx="868.6" cy="766.3" r="5.05"/><circle cx="883.5" cy="770.6" r="5.05"/><circle cx="888.5" cy="762.8" r="5.05"/><circle cx="894.3" cy="766.3" r="5.05"/><circle cx="915.7" cy="767.0" r="5.05"/><circle cx="885.7" cy="778.5" r="5.05"/><circle cx="923.5" cy="774.2" r="5.05"/><circle cx="931.4" cy="774.2" r="5.05"/><circle cx="977.7" cy="778.5" r="5.05"/><circle cx="989.9" cy="782.0" r="5.05"/><circle cx="935.6" cy="786.3" r="5.05"/><circle cx="967.0" cy="785.6" r="5.05"/><circle cx="863.6" cy="802.0" r="5.05"/><circle cx="921.4" cy="794.2" r="5.05"/><circle cx="952.8" cy="798.4" r="5.05"/><circle cx="962.8" cy="798.4" r="5.05"/><circle cx="908.5" cy="804.1" r="5.05"/><circle cx="874.3" cy="808.4" r="5.05"/><circle cx="948.5" cy="807.0" r="5.05"/><circle cx="865.7" cy="814.3" r="5.05"/><circle cx="882.8" cy="811.4" r="5.05"/><circle cx="892.8" cy="814.3" r="5.05"/><circle cx="906.4" cy="817.8" r="5.05"/><circle cx="907.8" cy="811.4" r="5.05"/><circle cx="932.1" cy="818.6" r="5.05"/><circle cx="945.6" cy="821.4" r="5.05"/><circle cx="963.5" cy="821.4" r="5.05"/><circle cx="879.3" cy="821.4" r="5.05"/><circle cx="902.8" cy="830.0" r="5.05"/><circle cx="950.6" cy="830.0" r="5.05"/><circle cx="960.6" cy="830.0" r="5.05"/><circle cx="974.2" cy="830.0" r="5.05"/><circle cx="914.2" cy="833.5" r="5.05"/><circle cx="958.5" cy="845.7" r="5.05"/><circle cx="987.0" cy="837.1" r="5.05"/><circle cx="981.3" cy="845.7" r="5.05"/><circle cx="991.3" cy="845.7" r="5.05"/><circle cx="875.0" cy="841.4" r="5.05"/><circle cx="897.1" cy="841.4" r="5.05"/><circle cx="912.8" cy="841.4" r="5.05"/><circle cx="970.6" cy="852.8" r="5.05"/><circle cx="925.7" cy="857.1" r="5.05"/><circle cx="927.8" cy="864.9" r="5.05"/><circle cx="971.3" cy="869.2" r="5.05"/><circle cx="979.9" cy="869.2" r="5.05"/><circle cx="983.5" cy="864.9" r="5.05"/><circle cx="964.9" cy="881.1" r="5.05"/><circle cx="957.1" cy="889.2" r="5.05"/><circle cx="868.6" cy="896.3" r="5.05"/><circle cx="953.9" cy="908.5" r="5.05"/></g>
<g fill="#000000" stroke="#2a2a2a" stroke-width="0.9"><circle cx="299.2" cy="691.7" r="5.05"/><circle cx="170.3" cy="699.2" r="5.05"/><circle cx="172.1" cy="707.8" r="5.05"/><circle cx="274.2" cy="715.4" r="5.05"/><circle cx="292.4" cy="711.7" r="5.05"/><circle cx="196.8" cy="727.1" r="5.05"/><circle cx="213.5" cy="731.4" r="5.05"/><circle cx="229.9" cy="723.5" r="5.05"/><circle cx="261.3" cy="734.9" r="5.05"/><circle cx="251.1" cy="739.2" r="5.05"/><circle cx="275.9" cy="739.2" r="5.05"/><circle cx="174.0" cy="746.8" r="5.05"/><circle cx="203.5" cy="754.9" r="5.05"/><circle cx="195.0" cy="758.8" r="5.05"/><circle cx="231.4" cy="747.1" r="5.05"/><circle cx="287.0" cy="747.1" r="5.05"/><circle cx="294.2" cy="747.1" r="5.05"/><circle cx="259.2" cy="758.8" r="5.05"/><circle cx="181.4" cy="766.8" r="5.05"/><circle cx="219.9" cy="766.8" r="5.05"/><circle cx="233.1" cy="762.8" r="5.05"/><circle cx="254.2" cy="766.8" r="5.05"/><circle cx="269.2" cy="770.2" r="5.05"/><circle cx="279.2" cy="766.8" r="5.05"/><circle cx="290.6" cy="774.2" r="5.05"/><circle cx="188.5" cy="778.2" r="5.05"/><circle cx="185.0" cy="782.0" r="5.05"/><circle cx="192.1" cy="786.3" r="5.05"/><circle cx="224.9" cy="778.5" r="5.05"/><circle cx="218.5" cy="786.3" r="5.05"/><circle cx="226.4" cy="786.3" r="5.05"/><circle cx="264.2" cy="786.3" r="5.05"/><circle cx="271.0" cy="778.5" r="5.05"/><circle cx="284.2" cy="786.3" r="5.05"/><circle cx="297.7" cy="778.5" r="5.05"/><circle cx="183.5" cy="790.6" r="5.05"/><circle cx="296.3" cy="794.2" r="5.05"/><circle cx="187.1" cy="805.6" r="5.05"/><circle cx="235.6" cy="802.0" r="5.05"/><circle cx="257.1" cy="802.0" r="5.05"/><circle cx="267.0" cy="802.0" r="5.05"/><circle cx="282.7" cy="802.0" r="5.05"/><circle cx="178.6" cy="814.3" r="5.05"/><circle cx="200.0" cy="817.8" r="5.05"/><circle cx="210.0" cy="817.1" r="5.05"/><circle cx="227.8" cy="814.3" r="5.05"/><circle cx="246.3" cy="814.3" r="5.05"/><circle cx="288.4" cy="814.3" r="5.05"/><circle cx="239.2" cy="821.4" r="5.05"/><circle cx="272.7" cy="825.7" r="5.05"/><circle cx="277.7" cy="822.1" r="5.05"/><circle cx="193.5" cy="833.5" r="5.05"/><circle cx="209.2" cy="825.7" r="5.05"/><circle cx="207.1" cy="832.8" r="5.05"/><circle cx="237.8" cy="830.0" r="5.05"/><circle cx="252.8" cy="825.7" r="5.05"/><circle cx="262.8" cy="830.0" r="5.05"/><circle cx="249.2" cy="834.3" r="5.05"/><circle cx="175.7" cy="837.8" r="5.05"/><circle cx="201.4" cy="841.4" r="5.05"/><circle cx="242.8" cy="840.7" r="5.05"/><circle cx="257.8" cy="841.4" r="5.05"/><circle cx="222.8" cy="849.2" r="5.05"/><circle cx="241.4" cy="850.0" r="5.05"/><circle cx="214.9" cy="861.4" r="5.05"/><circle cx="247.8" cy="861.4" r="5.05"/><circle cx="205.0" cy="872.8" r="5.05"/><circle cx="244.9" cy="877.1" r="5.05"/><circle cx="299.9" cy="877.1" r="5.05"/><circle cx="265.6" cy="884.9" r="5.05"/><circle cx="216.8" cy="888.5" r="5.05"/><circle cx="221.4" cy="896.3" r="5.05"/><circle cx="299.9" cy="892.8" r="5.05"/><circle cx="321.8" cy="680.0" r="5.05"/><circle cx="331.7" cy="692.1" r="5.05"/><circle cx="361.4" cy="707.8" r="5.05"/><circle cx="391.1" cy="715.7" r="5.05"/><circle cx="356.4" cy="723.5" r="5.05"/><circle cx="313.6" cy="735.6" r="5.05"/><circle cx="342.8" cy="739.2" r="5.05"/><circle cx="382.5" cy="743.1" r="5.05"/><circle cx="439.2" cy="735.6" r="5.05"/><circle cx="351.4" cy="747.1" r="5.05"/><circle cx="325.0" cy="751.1" r="5.05"/><circle cx="395.9" cy="747.1" r="5.05"/><circle cx="427.0" cy="751.3" r="5.05"/><circle cx="435.6" cy="747.1" r="5.05"/><circle cx="345.0" cy="758.5" r="5.05"/><circle cx="327.1" cy="770.6" r="5.05"/><circle cx="346.4" cy="767.0" r="5.05"/><circle cx="381.1" cy="762.8" r="5.05"/><circle cx="389.9" cy="766.3" r="5.05"/><circle cx="308.6" cy="778.5" r="5.05"/><circle cx="312.8" cy="774.2" r="5.05"/><circle cx="348.5" cy="782.0" r="5.05"/><circle cx="354.2" cy="782.7" r="5.05"/><circle cx="394.2" cy="774.9" r="5.05"/><circle cx="410.6" cy="778.5" r="5.05"/><circle cx="419.9" cy="774.2" r="5.05"/><circle cx="428.4" cy="778.5" r="5.05"/><circle cx="305.7" cy="790.6" r="5.05"/><circle cx="335.0" cy="786.3" r="5.05"/><circle cx="372.8" cy="786.3" r="5.05"/><circle cx="417.0" cy="789.9" r="5.05"/><circle cx="323.5" cy="794.2" r="5.05"/><circle cx="333.5" cy="802.0" r="5.05"/><circle cx="350.0" cy="802.0" r="5.05"/><circle cx="366.4" cy="798.4" r="5.05"/><circle cx="374.9" cy="794.2" r="5.05"/><circle cx="379.2" cy="802.0" r="5.05"/><circle cx="403.5" cy="797.7" r="5.05"/><circle cx="424.2" cy="797.7" r="5.05"/><circle cx="437.7" cy="794.2" r="5.05"/><circle cx="359.9" cy="805.6" r="5.05"/><circle cx="409.2" cy="807.0" r="5.05"/><circle cx="419.9" cy="806.3" r="5.05"/><circle cx="432.0" cy="805.6" r="5.05"/><circle cx="315.0" cy="814.3" r="5.05"/><circle cx="364.2" cy="814.3" r="5.05"/><circle cx="386.3" cy="814.3" r="5.05"/><circle cx="307.1" cy="825.7" r="5.05"/><circle cx="336.8" cy="825.7" r="5.05"/><circle cx="354.9" cy="830.0" r="5.05"/><circle cx="376.4" cy="830.0" r="5.05"/><circle cx="397.8" cy="825.7" r="5.05"/><circle cx="433.4" cy="830.0" r="5.05"/><circle cx="330.0" cy="833.5" r="5.05"/><circle cx="377.8" cy="833.5" r="5.05"/><circle cx="405.6" cy="833.5" r="5.05"/><circle cx="310.0" cy="837.8" r="5.05"/><circle cx="317.1" cy="837.8" r="5.05"/><circle cx="399.2" cy="841.4" r="5.05"/><circle cx="412.7" cy="837.8" r="5.05"/><circle cx="340.0" cy="849.2" r="5.05"/><circle cx="357.8" cy="853.5" r="5.05"/><circle cx="367.8" cy="849.2" r="5.05"/><circle cx="384.2" cy="857.1" r="5.05"/><circle cx="425.6" cy="849.2" r="5.05"/><circle cx="438.4" cy="853.5" r="5.05"/><circle cx="320.7" cy="860.7" r="5.05"/><circle cx="387.8" cy="861.4" r="5.05"/><circle cx="437.0" cy="861.4" r="5.05"/><circle cx="341.4" cy="880.6" r="5.05"/><circle cx="371.4" cy="884.9" r="5.05"/><circle cx="362.8" cy="888.5" r="5.05"/><circle cx="392.8" cy="880.6" r="5.05"/><circle cx="430.6" cy="880.6" r="5.05"/><circle cx="439.9" cy="892.8" r="5.05"/><circle cx="328.5" cy="904.2" r="5.05"/><circle cx="400.6" cy="904.2" r="5.05"/><circle cx="338.2" cy="919.9" r="5.05"/><circle cx="369.6" cy="919.9" r="5.05"/><circle cx="407.0" cy="916.3" r="5.05"/><circle cx="414.2" cy="916.3" r="5.05"/><circle cx="318.6" cy="927.7" r="5.05"/><circle cx="517.8" cy="687.8" r="5.05"/><circle cx="499.7" cy="700.0" r="5.05"/><circle cx="570.2" cy="700.0" r="5.05"/><circle cx="505.9" cy="715.4" r="5.05"/><circle cx="466.4" cy="734.9" r="5.05"/><circle cx="563.5" cy="731.4" r="5.05"/><circle cx="569.2" cy="734.9" r="5.05"/><circle cx="535.6" cy="739.2" r="5.05"/><circle cx="480.0" cy="747.1" r="5.05"/><circle cx="494.9" cy="751.1" r="5.05"/><circle cx="457.1" cy="762.8" r="5.05"/><circle cx="483.5" cy="758.5" r="5.05"/><circle cx="511.4" cy="758.5" r="5.05"/><circle cx="513.5" cy="762.8" r="5.05"/><circle cx="547.0" cy="758.5" r="5.05"/><circle cx="549.9" cy="762.8" r="5.05"/><circle cx="578.4" cy="754.9" r="5.05"/><circle cx="463.5" cy="774.2" r="5.05"/><circle cx="477.1" cy="770.6" r="5.05"/><circle cx="481.4" cy="766.3" r="5.05"/><circle cx="492.8" cy="770.6" r="5.05"/><circle cx="524.2" cy="767.0" r="5.05"/><circle cx="532.1" cy="766.3" r="5.05"/><circle cx="539.2" cy="762.8" r="5.05"/><circle cx="562.0" cy="774.2" r="5.05"/><circle cx="573.4" cy="778.5" r="5.05"/><circle cx="447.1" cy="786.3" r="5.05"/><circle cx="458.6" cy="789.9" r="5.05"/><circle cx="474.3" cy="786.3" r="5.05"/><circle cx="478.5" cy="778.5" r="5.05"/><circle cx="516.4" cy="786.3" r="5.05"/><circle cx="577.0" cy="789.9" r="5.05"/><circle cx="475.0" cy="790.6" r="5.05"/><circle cx="453.6" cy="797.7" r="5.05"/><circle cx="486.4" cy="794.2" r="5.05"/><circle cx="522.8" cy="793.4" r="5.05"/><circle cx="527.8" cy="797.7" r="5.05"/><circle cx="557.0" cy="797.7" r="5.05"/><circle cx="501.4" cy="805.6" r="5.05"/><circle cx="544.9" cy="807.7" r="5.05"/><circle cx="554.9" cy="806.3" r="5.05"/><circle cx="579.2" cy="802.7" r="5.05"/><circle cx="491.4" cy="817.8" r="5.05"/><circle cx="502.8" cy="821.4" r="5.05"/><circle cx="514.2" cy="821.4" r="5.05"/><circle cx="521.4" cy="825.7" r="5.05"/><circle cx="530.6" cy="817.8" r="5.05"/><circle cx="537.8" cy="817.8" r="5.05"/><circle cx="540.6" cy="825.7" r="5.05"/><circle cx="549.9" cy="813.6" r="5.05"/><circle cx="552.7" cy="825.7" r="5.05"/><circle cx="577.7" cy="825.7" r="5.05"/><circle cx="445.7" cy="833.5" r="5.05"/><circle cx="487.1" cy="837.8" r="5.05"/><circle cx="497.8" cy="837.8" r="5.05"/><circle cx="542.0" cy="837.1" r="5.05"/><circle cx="565.6" cy="830.0" r="5.05"/><circle cx="572.0" cy="837.8" r="5.05"/><circle cx="560.6" cy="841.4" r="5.05"/><circle cx="450.7" cy="842.1" r="5.05"/><circle cx="468.5" cy="841.4" r="5.05"/><circle cx="473.5" cy="841.4" r="5.05"/><circle cx="509.2" cy="841.4" r="5.05"/><circle cx="529.2" cy="845.7" r="5.05"/><circle cx="534.9" cy="845.7" r="5.05"/><circle cx="457.1" cy="847.8" r="5.05"/><circle cx="460.7" cy="849.2" r="5.05"/><circle cx="579.2" cy="849.2" r="5.05"/><circle cx="470.0" cy="861.4" r="5.05"/><circle cx="448.6" cy="869.2" r="5.05"/><circle cx="574.9" cy="861.4" r="5.05"/><circle cx="519.2" cy="864.9" r="5.05"/><circle cx="465.0" cy="872.8" r="5.05"/><circle cx="504.2" cy="877.1" r="5.05"/><circle cx="461.7" cy="888.5" r="5.05"/><circle cx="496.4" cy="888.5" r="5.05"/><circle cx="507.8" cy="888.5" r="5.05"/><circle cx="558.5" cy="888.5" r="5.05"/><circle cx="553.5" cy="896.3" r="5.05"/><circle cx="598.3" cy="684.0" r="5.05"/><circle cx="606.4" cy="691.7" r="5.05"/><circle cx="627.8" cy="699.7" r="5.05"/><circle cx="585.4" cy="711.4" r="5.05"/><circle cx="591.7" cy="715.4" r="5.05"/><circle cx="709.9" cy="715.4" r="5.05"/><circle cx="664.2" cy="722.8" r="5.05"/><circle cx="659.2" cy="731.4" r="5.05"/><circle cx="702.0" cy="727.1" r="5.05"/><circle cx="703.5" cy="731.4" r="5.05"/><circle cx="692.0" cy="742.8" r="5.05"/><circle cx="635.7" cy="750.6" r="5.05"/><circle cx="640.7" cy="747.1" r="5.05"/><circle cx="652.8" cy="750.6" r="5.05"/><circle cx="682.5" cy="754.9" r="5.05"/><circle cx="714.9" cy="754.9" r="5.05"/><circle cx="593.6" cy="762.8" r="5.05"/><circle cx="615.0" cy="766.3" r="5.05"/><circle cx="632.8" cy="766.3" r="5.05"/><circle cx="670.6" cy="762.8" r="5.05"/><circle cx="687.0" cy="770.6" r="5.05"/><circle cx="716.3" cy="766.3" r="5.05"/><circle cx="608.5" cy="774.2" r="5.05"/><circle cx="622.8" cy="774.2" r="5.05"/><circle cx="649.9" cy="770.6" r="5.05"/><circle cx="654.2" cy="774.2" r="5.05"/><circle cx="698.5" cy="778.5" r="5.05"/><circle cx="713.4" cy="774.2" r="5.05"/><circle cx="616.4" cy="782.7" r="5.05"/><circle cx="625.0" cy="778.5" r="5.05"/><circle cx="634.2" cy="782.7" r="5.05"/><circle cx="661.4" cy="782.7" r="5.05"/><circle cx="662.8" cy="787.0" r="5.05"/><circle cx="684.2" cy="782.0" r="5.05"/><circle cx="611.4" cy="794.2" r="5.05"/><circle cx="644.2" cy="790.6" r="5.05"/><circle cx="675.6" cy="790.6" r="5.05"/><circle cx="685.6" cy="789.9" r="5.05"/><circle cx="707.0" cy="790.6" r="5.05"/><circle cx="590.0" cy="802.0" r="5.05"/><circle cx="610.0" cy="806.3" r="5.05"/><circle cx="637.8" cy="805.6" r="5.05"/><circle cx="705.6" cy="805.6" r="5.05"/><circle cx="712.0" cy="798.4" r="5.05"/><circle cx="586.9" cy="817.8" r="5.05"/><circle cx="600.0" cy="817.8" r="5.05"/><circle cx="605.7" cy="817.8" r="5.05"/><circle cx="626.4" cy="817.8" r="5.05"/><circle cx="632.1" cy="817.8" r="5.05"/><circle cx="665.6" cy="814.3" r="5.05"/><circle cx="700.6" cy="814.3" r="5.05"/><circle cx="717.0" cy="814.3" r="5.05"/><circle cx="596.8" cy="825.7" r="5.05"/><circle cx="642.8" cy="825.7" r="5.05"/><circle cx="655.6" cy="825.7" r="5.05"/><circle cx="667.8" cy="822.1" r="5.05"/><circle cx="674.2" cy="822.1" r="5.05"/><circle cx="694.9" cy="825.7" r="5.05"/><circle cx="697.7" cy="833.5" r="5.05"/><circle cx="708.4" cy="833.5" r="5.05"/><circle cx="719.2" cy="830.0" r="5.05"/><circle cx="601.4" cy="841.4" r="5.05"/><circle cx="667.3" cy="837.8" r="5.05"/><circle cx="657.8" cy="849.2" r="5.05"/><circle cx="680.6" cy="845.7" r="5.05"/><circle cx="617.8" cy="849.2" r="5.05"/><circle cx="590.0" cy="857.1" r="5.05"/><circle cx="613.5" cy="853.5" r="5.05"/><circle cx="620.0" cy="857.1" r="5.05"/><circle cx="692.7" cy="852.8" r="5.05"/><circle cx="689.9" cy="857.1" r="5.05"/><circle cx="602.8" cy="869.2" r="5.05"/><circle cx="645.7" cy="864.9" r="5.05"/><circle cx="647.8" cy="873.5" r="5.05"/><circle cx="621.4" cy="872.8" r="5.05"/><circle cx="595.0" cy="884.9" r="5.05"/><circle cx="672.1" cy="892.8" r="5.05"/><circle cx="629.2" cy="896.3" r="5.05"/><circle cx="677.5" cy="916.3" r="5.05"/><circle cx="688.9" cy="912.5" r="5.05"/><circle cx="679.2" cy="952.0" r="5.05"/><circle cx="736.8" cy="668.3" r="5.05"/><circle cx="801.1" cy="687.8" r="5.05"/><circle cx="843.5" cy="684.0" r="5.05"/><circle cx="818.9" cy="711.4" r="5.05"/><circle cx="726.9" cy="711.4" r="5.05"/><circle cx="749.7" cy="719.2" r="5.05"/><circle cx="748.3" cy="731.4" r="5.05"/><circle cx="813.5" cy="734.9" r="5.05"/><circle cx="851.3" cy="734.9" r="5.05"/><circle cx="730.0" cy="746.8" r="5.05"/><circle cx="746.4" cy="750.6" r="5.05"/><circle cx="822.8" cy="738.5" r="5.05"/><circle cx="829.2" cy="742.8" r="5.05"/><circle cx="731.7" cy="758.5" r="5.05"/><circle cx="764.5" cy="754.9" r="5.05"/><circle cx="787.8" cy="754.9" r="5.05"/><circle cx="789.2" cy="759.2" r="5.05"/><circle cx="838.5" cy="754.9" r="5.05"/><circle cx="842.0" cy="762.8" r="5.05"/><circle cx="853.4" cy="754.9" r="5.05"/><circle cx="721.4" cy="766.3" r="5.05"/><circle cx="752.8" cy="774.2" r="5.05"/><circle cx="774.2" cy="766.3" r="5.05"/><circle cx="827.0" cy="766.3" r="5.05"/><circle cx="837.0" cy="770.6" r="5.05"/><circle cx="857.0" cy="767.0" r="5.05"/><circle cx="857.0" cy="774.2" r="5.05"/><circle cx="723.6" cy="782.0" r="5.05"/><circle cx="738.6" cy="786.3" r="5.05"/><circle cx="751.4" cy="782.0" r="5.05"/><circle cx="775.7" cy="782.0" r="5.05"/><circle cx="797.8" cy="778.5" r="5.05"/><circle cx="755.0" cy="790.6" r="5.05"/><circle cx="767.8" cy="797.7" r="5.05"/><circle cx="802.8" cy="789.9" r="5.05"/><circle cx="825.6" cy="790.6" r="5.05"/><circle cx="834.2" cy="794.2" r="5.05"/><circle cx="848.4" cy="794.2" r="5.05"/><circle cx="726.4" cy="807.7" r="5.05"/><circle cx="744.3" cy="805.6" r="5.05"/><circle cx="765.7" cy="805.6" r="5.05"/><circle cx="792.8" cy="805.6" r="5.05"/><circle cx="805.6" cy="802.0" r="5.05"/><circle cx="811.3" cy="802.0" r="5.05"/><circle cx="833.5" cy="802.0" r="5.05"/><circle cx="828.5" cy="807.0" r="5.05"/><circle cx="740.0" cy="814.3" r="5.05"/><circle cx="769.2" cy="811.4" r="5.05"/><circle cx="785.7" cy="817.8" r="5.05"/><circle cx="805.6" cy="817.8" r="5.05"/><circle cx="847.0" cy="817.8" r="5.05"/><circle cx="844.9" cy="825.7" r="5.05"/><circle cx="854.9" cy="825.7" r="5.05"/><circle cx="733.1" cy="833.5" r="5.05"/><circle cx="793.5" cy="833.5" r="5.05"/><circle cx="777.8" cy="833.5" r="5.05"/><circle cx="809.2" cy="825.7" r="5.05"/><circle cx="814.2" cy="825.7" r="5.05"/><circle cx="821.3" cy="837.8" r="5.05"/><circle cx="734.3" cy="845.7" r="5.05"/><circle cx="742.1" cy="845.7" r="5.05"/><circle cx="790.6" cy="845.7" r="5.05"/><circle cx="804.2" cy="849.7" r="5.05"/><circle cx="858.4" cy="845.7" r="5.05"/><circle cx="760.7" cy="853.5" r="5.05"/><circle cx="756.4" cy="861.4" r="5.05"/><circle cx="771.4" cy="853.5" r="5.05"/><circle cx="780.7" cy="849.2" r="5.05"/><circle cx="779.2" cy="853.5" r="5.05"/><circle cx="839.9" cy="857.1" r="5.05"/><circle cx="859.2" cy="852.8" r="5.05"/><circle cx="757.8" cy="869.2" r="5.05"/><circle cx="782.8" cy="864.9" r="5.05"/><circle cx="784.2" cy="869.2" r="5.05"/><circle cx="794.2" cy="869.2" r="5.05"/><circle cx="799.2" cy="864.9" r="5.05"/><circle cx="817.5" cy="869.2" r="5.05"/><circle cx="772.8" cy="880.6" r="5.05"/><circle cx="762.8" cy="892.8" r="5.05"/><circle cx="849.9" cy="888.5" r="5.05"/><circle cx="967.0" cy="707.5" r="5.05"/><circle cx="880.0" cy="715.4" r="5.05"/><circle cx="939.2" cy="719.2" r="5.05"/><circle cx="949.2" cy="723.5" r="5.05"/><circle cx="964.2" cy="722.8" r="5.05"/><circle cx="962.0" cy="731.4" r="5.05"/><circle cx="983.5" cy="731.4" r="5.05"/><circle cx="898.2" cy="731.4" r="5.05"/><circle cx="945.6" cy="742.8" r="5.05"/><circle cx="885.0" cy="742.8" r="5.05"/><circle cx="891.4" cy="747.1" r="5.05"/><circle cx="914.2" cy="747.1" r="5.05"/><circle cx="972.0" cy="747.1" r="5.05"/><circle cx="975.6" cy="751.3" r="5.05"/><circle cx="912.8" cy="758.5" r="5.05"/><circle cx="922.8" cy="758.5" r="5.05"/><circle cx="862.9" cy="766.3" r="5.05"/><circle cx="872.8" cy="766.3" r="5.05"/><circle cx="892.8" cy="770.6" r="5.05"/><circle cx="903.5" cy="770.6" r="5.05"/><circle cx="906.4" cy="774.9" r="5.05"/><circle cx="867.8" cy="778.5" r="5.05"/><circle cx="937.8" cy="774.2" r="5.05"/><circle cx="959.9" cy="778.5" r="5.05"/><circle cx="865.0" cy="786.3" r="5.05"/><circle cx="878.3" cy="786.3" r="5.05"/><circle cx="890.0" cy="789.9" r="5.05"/><circle cx="905.7" cy="786.3" r="5.05"/><circle cx="919.9" cy="782.0" r="5.05"/><circle cx="916.4" cy="789.9" r="5.05"/><circle cx="940.6" cy="782.7" r="5.05"/><circle cx="944.9" cy="789.9" r="5.05"/><circle cx="952.1" cy="782.7" r="5.05"/><circle cx="957.8" cy="789.9" r="5.05"/><circle cx="968.5" cy="789.9" r="5.05"/><circle cx="977.0" cy="786.3" r="5.05"/><circle cx="985.6" cy="789.9" r="5.05"/><circle cx="990.6" cy="794.2" r="5.05"/><circle cx="882.8" cy="798.4" r="5.05"/><circle cx="899.7" cy="798.4" r="5.05"/><circle cx="909.2" cy="794.2" r="5.05"/><circle cx="932.8" cy="802.7" r="5.05"/><circle cx="979.9" cy="802.0" r="5.05"/><circle cx="876.4" cy="805.6" r="5.05"/><circle cx="894.3" cy="805.6" r="5.05"/><circle cx="925.7" cy="807.0" r="5.05"/><circle cx="951.3" cy="808.4" r="5.05"/><circle cx="965.6" cy="805.6" r="5.05"/><circle cx="917.8" cy="814.3" r="5.05"/><circle cx="931.4" cy="817.8" r="5.05"/><circle cx="932.8" cy="822.1" r="5.05"/><circle cx="955.6" cy="817.8" r="5.05"/><circle cx="974.2" cy="814.3" r="5.05"/><circle cx="987.0" cy="822.1" r="5.05"/><circle cx="988.4" cy="826.4" r="5.05"/><circle cx="872.1" cy="822.1" r="5.05"/><circle cx="875.0" cy="825.7" r="5.05"/><circle cx="942.1" cy="825.7" r="5.05"/><circle cx="978.5" cy="830.0" r="5.05"/><circle cx="887.1" cy="830.0" r="5.05"/><circle cx="885.7" cy="833.5" r="5.05"/><circle cx="927.1" cy="833.5" r="5.05"/><circle cx="925.7" cy="837.8" r="5.05"/><circle cx="935.6" cy="841.4" r="5.05"/><circle cx="901.4" cy="845.7" r="5.05"/><circle cx="881.4" cy="849.2" r="5.05"/><circle cx="982.0" cy="857.1" r="5.05"/><circle cx="992.0" cy="857.1" r="5.05"/><circle cx="896.4" cy="857.1" r="5.05"/><circle cx="958.8" cy="869.2" r="5.05"/><circle cx="866.4" cy="880.6" r="5.05"/><circle cx="870.0" cy="884.9" r="5.05"/><circle cx="969.9" cy="881.1" r="5.05"/></g>
<path d="M160.6 609.4H1000.1" stroke="#1e1e1e" stroke-width="1.25" fill="none"/>
<path d="M160.6 609.4V963.3H1000.1V609.4" stroke="#6a6a6a" stroke-width="1.4" fill="none"/>
<path d="M168.80 963.3v-8.5M168.80 609.4v8.5M333.40 963.3v-8.5M333.40 609.4v8.5M498.00 963.3v-8.5M498.00 609.4v8.5M662.60 963.3v-8.5M662.60 609.4v8.5M827.20 963.3v-8.5M827.20 609.4v8.5M991.80 963.3v-8.5M991.80 609.4v8.5" stroke="#707070" stroke-width="1.2" fill="none"/>
<path d="M160.6 963.20h8.5M1000.1 963.20h-8.5M160.6 884.50h8.5M1000.1 884.50h-8.5M160.6 805.80h8.5M1000.1 805.80h-8.5M160.6 727.10h8.5M1000.1 727.10h-8.5M160.6 648.40h8.5M1000.1 648.40h-8.5" stroke="#262626" stroke-width="1.2" fill="none"/>
<text x="160.32" y="1003.17" font-family="Liberation Serif" font-size="34.08" textLength="16.95" lengthAdjust="spacingAndGlyphs" fill="#262626" stroke="#262626" stroke-width="0.3">0</text>
<text x="308.12" y="1003.17" font-family="Liberation Serif" font-size="34.08" textLength="50.86" lengthAdjust="spacingAndGlyphs" fill="#262626" stroke="#262626" stroke-width="0.3">100</text>
<text x="472.47" y="1003.17" font-family="Liberation Serif" font-size="34.08" textLength="50.86" lengthAdjust="spacingAndGlyphs" fill="#262626" stroke="#262626" stroke-width="0.3">200</text>
<text x="637.00" y="1003.17" font-family="Liberation Serif" font-size="34.08" textLength="50.86" lengthAdjust="spacingAndGlyphs" fill="#262626" stroke="#262626" stroke-width="0.3">300</text>
<text x="802.08" y="1003.17" font-family="Liberation Serif" font-size="34.08" textLength="50.86" lengthAdjust="spacingAndGlyphs" fill="#262626" stroke="#262626" stroke-width="0.3">400</text>
<text x="966.03" y="1003.17" font-family="Liberation Serif" font-size="34.08" textLength="50.86" lengthAdjust="spacingAndGlyphs" fill="#262626" stroke="#262626" stroke-width="0.3">500</text>
<text x="117.78" y="974.77" font-family="Liberation Serif" font-size="34.08" textLength="33.91" lengthAdjust="spacingAndGlyphs" fill="#262626" stroke="#262626" stroke-width="0.3">20</text>
<text x="117.78" y="896.07" font-family="Liberation Serif" font-size="34.08" textLength="33.91" lengthAdjust="spacingAndGlyphs" fill="#262626" stroke="#262626" stroke-width="0.3">30</text>
<text x="117.78" y="817.37" font-family="Liberation Serif" font-size="34.08" textLength="33.91" lengthAdjust="spacingAndGlyphs" fill="#262626" stroke="#262626" stroke-width="0.3">40</text>
<text x="117.78" y="738.67" font-family="Liberation Serif" font-size="34.08" textLength="33.91" lengthAdjust="spacingAndGlyphs" fill="#262626" stroke="#262626" stroke-width="0.3">50</text>
<text x="117.78" y="659.97" font-family="Liberation Serif" font-size="34.08" textLength="33.91" lengthAdjust="spacingAndGlyphs" fill="#262626" stroke="#262626" stroke-width="0.3">60</text>
<text x="440.51" y="1049.50" font-family="Liberation Serif" font-size="36.75" textLength="265.38" lengthAdjust="spacingAndGlyphs" fill="#262626" stroke="#262626" stroke-width="0.3">Random Medium</text>
<text transform="translate(90.1 863.1) rotate(-90)" x="-1.15" y="0" font-family="Liberation Serif" font-size="38.8" textLength="154.00" lengthAdjust="spacingAndGlyphs" fill="#262626" stroke="#262626" stroke-width="0.3">Error (%)</text>
<rect x="366.4" y="620.5" width="421.2" height="37.5" fill="#fff" stroke="#262626" stroke-width="1.3"/>
<circle cx="397.6" cy="639.5" r="5.05" fill="#0000ff" stroke="#0a5fc0" stroke-width="0.9"/>
<circle cx="537.7" cy="639.5" r="5.05" fill="#ff0000" stroke="#d8561c" stroke-width="0.9"/>
<circle cx="678.3" cy="639.5" r="5.05" fill="#000000" stroke="#2a2a2a" stroke-width="0.9"/>
<text x="426.53" y="649.00" font-family="Liberation Serif" font-size="27.49" textLength="72.73" lengthAdjust="spacingAndGlyphs" fill="#000" stroke="#000" stroke-width="0.3">Type 1</text>
<text x="567.73" y="649.00" font-family="Liberation Serif" font-size="27.49" textLength="73.31" lengthAdjust="spacingAndGlyphs" fill="#000" stroke="#000" stroke-width="0.3">Type 2</text>
<text x="708.23" y="649.00" font-family="Liberation Serif" font-size="27.49" textLength="72.78" lengthAdjust="spacingAndGlyphs" fill="#000" stroke="#000" stroke-width="0.3">Type 3</text>
</svg>
</body></html>
